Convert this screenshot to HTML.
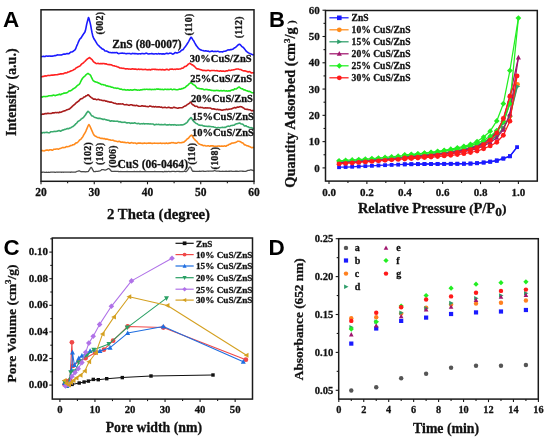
<!DOCTYPE html>
<html><head><meta charset="utf-8"><style>
html,body{margin:0;padding:0;background:#fff;}
body{width:550px;height:439px;overflow:hidden;}
svg{display:block;will-change:transform;}
</style></head><body>
<svg width="550" height="439" viewBox="0 0 550 439">
<rect width="550" height="439" fill="#fff"/>
<polyline points="41,172.31 41.6,172.31 42.2,172.26 42.8,172.21 43.4,172.19 44,172.21 44.6,172.32 45.2,172.38 45.8,172.29 46.4,172.25 47,172.32 47.6,172.34 48.2,172.28 48.8,172.22 49.4,172.28 50,172.29 50.6,172.19 51.2,172.13 51.8,172.07 52.4,172.04 53,172.08 53.6,172.14 54.2,172.18 54.8,172.25 55.4,172.28 56,172.16 56.6,172.04 57.2,172.12 57.8,172.23 58.4,172.19 59,172.11 59.6,172.1 60.2,172.11 60.8,172.16 61.4,172.24 62,172.19 62.6,172.2 63.2,172.24 63.8,172.18 64.4,172.16 65,172.18 65.6,172.13 66.2,172.07 66.8,172.16 67.4,172.19 68,172.1 68.6,172.13 69.2,172.13 69.8,172.13 70.4,172.25 71,172.17 71.6,172.01 72.2,172.04 72.8,172.09 73.4,172.07 74,172.06 74.6,172.05 75.2,172.09 75.8,171.99 76.4,171.72 77,171.46 77.6,171.25 78.2,171.05 78.8,170.9 79.4,170.94 80,171.2 80.6,171.54 81.2,171.73 81.8,171.7 82.4,171.71 83,171.74 83.6,171.64 84.2,171.65 84.8,171.77 85.4,171.83 86,171.76 86.6,171.62 87.2,171.53 87.8,171.55 88.4,171.37 89,170.47 89.6,169.33 90.2,168.36 90.8,167.5 91.4,167.46 92,168.34 92.6,169.48 93.2,170.72 93.8,171.54 94.4,171.59 95,171.53 95.6,171.5 96.2,171.47 96.8,171.46 97.4,171.4 98,171.27 98.6,171.14 99.2,171.04 99.8,170.84 100.4,170.61 101,170.21 101.6,169.73 102.2,169.57 102.8,169.69 103.4,169.68 104,169.77 104.6,169.98 105.2,170.03 105.8,169.84 106.4,169.59 107,169.34 107.6,169 108.2,168.7 108.8,168.66 109.4,168.97 110,169.55 110.6,170.29 111.2,170.97 111.8,171.41 112.4,171.47 113,171.42 113.6,171.4 114.2,171.35 114.8,171.27 115.4,171.34 116,171.4 116.6,171.39 117.2,171.43 117.8,171.45 118.4,171.49 119,171.54 119.6,171.58 120.2,171.54 120.8,171.5 121.4,171.66 122,171.72 122.6,171.62 123.2,171.55 123.8,171.53 124.4,171.55 125,171.62 125.6,171.59 126.2,171.54 126.8,171.51 127.4,171.47 128,171.53 128.6,171.64 129.2,171.67 129.8,171.67 130.4,171.61 131,171.54 131.6,171.53 132.2,171.55 132.8,171.57 133.4,171.56 134,171.51 134.6,171.45 135.2,171.55 135.8,171.67 136.4,171.57 137,171.51 137.6,171.64 138.2,171.66 138.8,171.54 139.4,171.51 140,171.48 140.6,171.47 141.2,171.59 141.8,171.63 142.4,171.57 143,171.56 143.6,171.58 144.2,171.57 144.8,171.52 145.4,171.46 146,171.51 146.6,171.63 147.2,171.62 147.8,171.6 148.4,171.59 149,171.54 149.6,171.56 150.2,171.61 150.8,171.59 151.4,171.57 152,171.63 152.6,171.71 153.2,171.7 153.8,171.62 154.4,171.51 155,171.5 155.6,171.64 156.2,171.69 156.8,171.63 157.4,171.65 158,171.7 158.6,171.71 159.2,171.67 159.8,171.64 160.4,171.63 161,171.58 161.6,171.62 162.2,171.68 162.8,171.73 163.4,171.81 164,171.71 164.6,171.48 165.2,171.43 165.8,171.53 166.4,171.52 167,171.56 167.6,171.57 168.2,171.39 168.8,171.35 169.4,171.5 170,171.57 170.6,171.54 171.2,171.52 171.8,171.44 172.4,171.4 173,171.45 173.6,171.41 174.2,171.41 174.8,171.52 175.4,171.57 176,171.53 176.6,171.46 177.2,171.41 177.8,171.4 178.4,171.44 179,171.48 179.6,171.49 180.2,171.54 180.8,171.64 181.4,171.63 182,171.52 182.6,171.53 183.2,171.54 183.8,171.45 184.4,171.38 185,171.44 185.6,171.54 186.2,171.49 186.8,171.06 187.4,170.36 188,169.5 188.6,168.48 189.2,167.57 189.8,166.87 190.4,167.06 191,167.93 191.6,169.29 192.2,170.63 192.8,171.25 193.4,171.18 194,171.23 194.6,171.35 195.2,171.35 195.8,171.31 196.4,171.3 197,171.33 197.6,171.38 198.2,171.37 198.8,171.29 199.4,171.24 200,171.26 200.6,171.29 201.2,171.29 201.8,171.22 202.4,171.21 203,171.21 203.6,171.23 204.2,171.39 204.8,171.41 205.4,171.3 206,171.3 206.6,171.2 207.2,171.06 207.8,171.14 208.4,171.23 209,171.18 209.6,171.12 210.2,171.13 210.8,171.19 211.4,171.21 212,171.12 212.6,171.05 213.2,171.01 213.8,170.86 214.4,170.7 215,170.71 215.6,170.91 216.2,171.04 216.8,171.08 217.4,171.12 218,171.17 218.6,171.22 219.2,171.25 219.8,171.27 220.4,171.35 221,171.44 221.6,171.4 222.2,171.29 222.8,171.23 223.4,171.29 224,171.41 224.6,171.4 225.2,171.31 225.8,171.23 226.4,171.2 227,171.28 227.6,171.34 228.2,171.29 228.8,171.25 229.4,171.27 230,171.23 230.6,171.16 231.2,171.18 231.8,171.24 232.4,171.29 233,171.28 233.6,171.35 234.2,171.4 234.8,171.28 235.4,171.22 236,171.26 236.6,171.23 237.2,171.2 237.8,171.33 238.4,171.41 239,171.3 239.6,171.18 240.2,171.17 240.8,171.17 241.4,171.11 242,171.14 242.6,171.24 243.2,171.24 243.8,171.32 244.4,171.37 245,171.3 245.6,171.29 246.2,171.23 246.8,170.97 247.4,170.67 248,170.47 248.6,170.42 249.2,170.4 249.8,170.22 250.4,169.97 251,169.88 251.6,170 252.2,170.2 252.8,170.43 253.4,170.72 254,171.03" fill="none" stroke="#4a4a4a" stroke-width="1.3" stroke-linejoin="round"/>
<polyline points="41,150.54 41.6,150.58 42.2,150.62 42.8,150.63 43.4,150.81 44,150.96 44.6,150.79 45.2,150.4 45.8,150.19 46.4,150.16 47,149.93 47.6,149.97 48.2,150.35 48.8,150.39 49.4,150.03 50,149.73 50.6,149.74 51.2,149.84 51.8,150.11 52.4,150.25 53,149.86 53.6,149.39 54.2,149.24 54.8,149.29 55.4,149.18 56,149.01 56.6,148.93 57.2,148.91 57.8,149.08 58.4,149.15 59,148.9 59.6,148.59 60.2,148.45 60.8,148.27 61.4,148.04 62,147.81 62.6,147.5 63.2,147.45 63.8,147.6 64.4,147.51 65,147.42 65.6,147.21 66.2,146.73 66.8,146.58 67.4,146.7 68,146.59 68.6,146.44 69.2,146.39 69.8,146.08 70.4,145.61 71,145.49 71.6,145.56 72.2,145.2 72.8,144.77 73.4,144.77 74,144.67 74.6,144.25 75.2,143.65 75.8,143.06 76.4,142.84 77,142.74 77.6,142.3 78.2,141.71 78.8,141.06 79.4,140.34 80,139.69 80.6,139.3 81.2,138.78 81.8,137.96 82.4,137.28 83,136.35 83.6,135.15 84.2,134.14 84.8,133.22 85.4,132.16 86,130.81 86.6,129.37 87.2,127.97 87.8,126.52 88.4,125.27 89,124.56 89.6,125.62 90.2,126.71 90.8,128.11 91.4,129.52 92,130.85 92.6,132.23 93.2,133.55 93.8,134.71 94.4,135.48 95,135.98 95.6,136.25 96.2,136.51 96.8,136.91 97.4,137.22 98,137.46 98.6,137.54 99.2,137.59 99.8,137.87 100.4,138.24 101,138.4 101.6,138.38 102.2,138.36 102.8,138.48 103.4,138.72 104,138.67 104.6,138.65 105.2,139.1 105.8,139.33 106.4,139.11 107,139.08 107.6,139.25 108.2,139.44 108.8,139.67 109.4,139.72 110,139.85 110.6,140.09 111.2,140.19 111.8,140.28 112.4,140.23 113,140.13 113.6,140.44 114.2,140.96 114.8,141.07 115.4,141.07 116,141.21 116.6,141.32 117.2,141.59 117.8,141.76 118.4,141.47 119,141.27 119.6,141.4 120.2,141.67 120.8,142.12 121.4,142.25 122,142 122.6,141.95 123.2,142.33 123.8,142.43 124.4,142.22 125,142.37 125.6,142.63 126.2,142.74 126.8,142.68 127.4,142.57 128,142.52 128.6,142.75 129.2,143.19 129.8,143.22 130.4,142.94 131,142.68 131.6,142.61 132.2,142.84 132.8,143.05 133.4,143.09 134,143.01 134.6,142.94 135.2,143.05 135.8,143.28 136.4,143.59 137,143.64 137.6,143.3 138.2,143.1 138.8,143.13 139.4,143.1 140,143.1 140.6,143.13 141.2,143.18 141.8,143.33 142.4,143.39 143,143.36 143.6,143.28 144.2,143.13 144.8,143.12 145.4,143.2 146,143.28 146.6,143.38 147.2,143.29 147.8,143.16 148.4,143.17 149,143.12 149.6,143.15 150.2,143.11 150.8,143.02 151.4,143.25 152,143.42 152.6,143.34 153.2,143.27 153.8,143.2 154.4,143.16 155,143.21 155.6,143.27 156.2,143.24 156.8,143.19 157.4,143.32 158,143.4 158.6,143.31 159.2,143.31 159.8,143.25 160.4,143.13 161,143.28 161.6,143.42 162.2,143.41 162.8,143.33 163.4,143.18 164,143.22 164.6,143.39 165.2,143.39 165.8,143.17 166.4,143.02 167,143.26 167.6,143.52 168.2,143.47 168.8,143.14 169.4,142.96 170,143.12 170.6,142.92 171.2,142.64 171.8,142.76 172.4,142.68 173,142.58 173.6,142.86 174.2,143.08 174.8,142.98 175.4,143.05 176,143.33 176.6,143.25 177.2,142.89 177.8,142.6 178.4,142.42 179,142.5 179.6,142.7 180.2,142.73 180.8,142.72 181.4,142.66 182,142.45 182.6,142.38 183.2,142.35 183.8,142.13 184.4,141.77 185,141.2 185.6,140.61 186.2,140.07 186.8,139.36 187.4,138.85 188,138.58 188.6,138.09 189.2,137.3 189.8,136.48 190.4,135.94 191,135.42 191.6,135.09 192.2,135.73 192.8,136.77 193.4,137.91 194,138.67 194.6,139.33 195.2,140.17 195.8,140.7 196.4,140.93 197,141.67 197.6,142.54 198.2,143.21 198.8,143.82 199.4,144.16 200,144.35 200.6,144.64 201.2,144.87 201.8,144.92 202.4,145.11 203,145.53 203.6,145.73 204.2,145.56 204.8,145.51 205.4,145.76 206,145.94 206.6,146 207.2,145.99 207.8,145.82 208.4,145.79 209,145.97 209.6,146.2 210.2,146.13 210.8,145.77 211.4,145.78 212,145.98 212.6,145.85 213.2,145.86 213.8,146.19 214.4,146.34 215,146.22 215.6,146.19 216.2,146.27 216.8,146.3 217.4,146.26 218,146.04 218.6,145.97 219.2,146.09 219.8,146.15 220.4,146.28 221,146.22 221.6,146.07 222.2,146.1 222.8,146.19 223.4,146.18 224,145.95 224.6,145.87 225.2,146.13 225.8,146.27 226.4,145.97 227,145.43 227.6,145.2 228.2,145.09 228.8,144.63 229.4,144.21 230,144.14 230.6,143.97 231.2,143.5 231.8,143.07 232.4,143.04 233,143.11 233.6,142.9 234.2,142.7 234.8,142.64 235.4,142.45 236,142.18 236.6,141.92 237.2,141.59 237.8,141.31 238.4,141.24 239,141.31 239.6,141.49 240.2,141.61 240.8,141.95 241.4,142.43 242,142.75 242.6,142.84 243.2,143.16 243.8,143.93 244.4,144.7 245,144.9 245.6,144.95 246.2,145.38 246.8,145.74 247.4,145.7 248,145.86 248.6,146.3 249.2,146.55 249.8,146.64 250.4,146.88 251,147.38 251.6,147.65 252.2,147.63 252.8,147.48 253.4,147.41 254,147.73" fill="none" stroke="#ff8a1c" stroke-width="1.6" stroke-linejoin="round"/>
<polyline points="41,132.8 41.6,132.92 42.2,132.92 42.8,132.63 43.4,132.47 44,132.59 44.6,132.59 45.2,132.51 45.8,132.49 46.4,132.3 47,132.24 47.6,132.56 48.2,132.72 48.8,132.81 49.4,132.8 50,132.31 50.6,131.83 51.2,131.73 51.8,131.74 52.4,131.81 53,131.7 53.6,131.51 54.2,131.48 54.8,131.42 55.4,131.44 56,131.41 56.6,131.25 57.2,131.12 57.8,130.94 58.4,130.67 59,130.5 59.6,130.73 60.2,131.09 60.8,131.08 61.4,130.79 62,130.36 62.6,130.11 63.2,130.08 63.8,129.85 64.4,129.54 65,129.38 65.6,129.22 66.2,129.03 66.8,128.79 67.4,128.54 68,128.64 68.6,128.78 69.2,128.41 69.8,128.06 70.4,128 71,127.67 71.6,127.13 72.2,126.85 72.8,126.64 73.4,126.15 74,125.69 74.6,125.2 75.2,124.46 75.8,123.77 76.4,123.34 77,122.76 77.6,121.87 78.2,121.24 78.8,120.93 79.4,120.62 80,120.29 80.6,119.7 81.2,119.03 81.8,118.68 82.4,118.25 83,117.76 83.6,117.33 84.2,116.55 84.8,115.75 85.4,115.07 86,114.02 86.6,112.98 87.2,112.17 87.8,111.35 88.4,111.6 89,112.06 89.6,112.58 90.2,113.5 90.8,114.41 91.4,115.24 92,115.91 92.6,116.08 93.2,116.27 93.8,116.82 94.4,117.18 95,117.39 95.6,117.62 96.2,117.81 96.8,118.02 97.4,118.26 98,118.36 98.6,118.42 99.2,118.4 99.8,118.32 100.4,118.51 101,118.79 101.6,118.86 102.2,119.02 102.8,119.41 103.4,119.42 104,119.14 104.6,119.18 105.2,119.53 105.8,119.75 106.4,119.85 107,119.99 107.6,120.15 108.2,120.29 108.8,120.34 109.4,120.55 110,121.03 110.6,121.19 111.2,120.85 111.8,120.69 112.4,120.91 113,121.09 113.6,121.04 114.2,121.11 114.8,121.25 115.4,121.21 116,121.25 116.6,121.27 117.2,121.16 117.8,121.29 118.4,121.65 119,121.87 119.6,121.79 120.2,121.65 120.8,121.91 121.4,122.28 122,122.35 122.6,122.2 123.2,122.19 123.8,122.34 124.4,122.26 125,122.13 125.6,122.39 126.2,122.76 126.8,122.87 127.4,122.83 128,122.8 128.6,122.81 129.2,122.75 129.8,122.97 130.4,123.36 131,123.23 131.6,122.93 132.2,122.97 132.8,123.2 133.4,123.28 134,122.99 134.6,122.79 135.2,123 135.8,123.22 136.4,123.41 137,123.58 137.6,123.59 138.2,123.45 138.8,123.37 139.4,123.69 140,123.99 140.6,123.86 141.2,123.67 141.8,123.79 142.4,123.86 143,123.63 143.6,123.62 144.2,123.84 144.8,123.87 145.4,123.79 146,123.79 146.6,123.82 147.2,123.85 147.8,123.78 148.4,123.71 149,123.92 149.6,124.05 150.2,123.9 150.8,123.97 151.4,124.07 152,123.98 152.6,123.97 153.2,124.09 153.8,124.49 154.4,124.89 155,124.78 155.6,124.47 156.2,124.42 156.8,124.42 157.4,124.52 158,124.54 158.6,124.4 159.2,124.5 159.8,124.66 160.4,124.74 161,124.6 161.6,124.45 162.2,124.61 162.8,124.73 163.4,124.71 164,124.67 164.6,124.41 165.2,124.32 165.8,124.72 166.4,124.92 167,124.81 167.6,124.85 168.2,124.9 168.8,124.72 169.4,124.61 170,124.81 170.6,124.88 171.2,124.79 171.8,124.87 172.4,124.75 173,124.73 173.6,125 174.2,124.88 174.8,124.64 175.4,124.83 176,125.17 176.6,125.2 177.2,125.02 177.8,125.06 178.4,125.08 179,124.96 179.6,124.99 180.2,124.97 180.8,124.86 181.4,124.87 182,124.97 182.6,124.9 183.2,124.61 183.8,124.43 184.4,124.27 185,123.87 185.6,123.46 186.2,123.02 186.8,122.57 187.4,121.99 188,121.03 188.6,120.13 189.2,119.45 189.8,118.97 190.4,118.07 191,117.5 191.6,118.21 192.2,119.32 192.8,120.27 193.4,121 194,121.61 194.6,122.21 195.2,122.72 195.8,123.18 196.4,123.47 197,123.66 197.6,124.11 198.2,124.58 198.8,124.97 199.4,125.1 200,125.16 200.6,125.33 201.2,125.33 201.8,125.25 202.4,125.36 203,125.7 203.6,126.05 204.2,126.15 204.8,126.16 205.4,126.24 206,126.21 206.6,126.21 207.2,126.41 207.8,126.48 208.4,126.35 209,126.31 209.6,126.41 210.2,126.44 210.8,126.54 211.4,126.74 212,126.82 212.6,126.81 213.2,126.85 213.8,127.04 214.4,127.16 215,127.32 215.6,127.62 216.2,127.74 216.8,127.85 217.4,127.76 218,127.5 218.6,127.54 219.2,127.73 219.8,127.78 220.4,127.75 221,127.58 221.6,127.44 222.2,127.41 222.8,127.4 223.4,127.53 224,127.5 224.6,127.35 225.2,127.37 225.8,127.22 226.4,126.79 227,126.48 227.6,126.32 228.2,126.13 228.8,126.27 229.4,126.4 230,126.12 230.6,125.82 231.2,125.58 231.8,125.46 232.4,125.35 233,125.2 233.6,125.22 234.2,125.12 234.8,124.72 235.4,124.24 236,123.94 236.6,123.81 237.2,123.67 237.8,123.5 238.4,123.39 239,123.13 239.6,122.99 240.2,123.31 240.8,123.81 241.4,123.92 242,124.05 242.6,124.29 243.2,124.55 243.8,125.2 244.4,125.9 245,125.96 245.6,125.74 246.2,125.89 246.8,126.36 247.4,126.73 248,126.77 248.6,127.01 249.2,127.52 249.8,127.76 250.4,127.7 251,127.64 251.6,127.78 252.2,127.96 252.8,128.23 253.4,128.69 254,128.96" fill="none" stroke="#3aaa6e" stroke-width="1.6" stroke-linejoin="round"/>
<polyline points="41,114.25 41.6,114.47 42.2,114.26 42.8,113.95 43.4,114.11 44,114.15 44.6,113.79 45.2,113.63 45.8,113.59 46.4,113.63 47,113.65 47.6,113.3 48.2,113.21 48.8,113.42 49.4,113.47 50,113.49 50.6,113.43 51.2,113.4 51.8,113.23 52.4,112.89 53,112.83 53.6,112.88 54.2,112.89 54.8,112.8 55.4,112.54 56,112.52 56.6,112.66 57.2,112.53 57.8,112.45 58.4,112.76 59,112.62 59.6,112.04 60.2,112.11 60.8,112.39 61.4,112.11 62,111.69 62.6,111.39 63.2,111.17 63.8,111 64.4,110.9 65,110.81 65.6,110.51 66.2,110.12 66.8,109.85 67.4,109.67 68,109.42 68.6,109.28 69.2,109.13 69.8,108.72 70.4,108.2 71,107.66 71.6,107.06 72.2,106.44 72.8,105.93 73.4,105.39 74,104.84 74.6,104.47 75.2,103.9 75.8,103.18 76.4,102.65 77,102.23 77.6,101.79 78.2,101.39 78.8,100.99 79.4,100.22 80,99.47 80.6,99.06 81.2,98.71 81.8,98.62 82.4,98.54 83,97.98 83.6,97.24 84.2,96.97 84.8,96.92 85.4,96.42 86,95.87 86.6,95.69 87.2,95.51 87.8,94.9 88.4,94.82 89,95.43 89.6,96.09 90.2,96.58 90.8,97.11 91.4,97.6 92,97.97 92.6,98.38 93.2,98.95 93.8,99.29 94.4,99.15 95,99.12 95.6,99.35 96.2,99.6 96.8,99.71 97.4,99.55 98,99.37 98.6,99.34 99.2,99.61 99.8,99.98 100.4,100.04 101,99.98 101.6,100.15 102.2,100.44 102.8,100.58 103.4,100.59 104,100.54 104.6,100.49 105.2,100.84 105.8,101.18 106.4,101.06 107,101.23 107.6,101.58 108.2,101.62 108.8,101.69 109.4,101.93 110,102.13 110.6,102.1 111.2,102.06 111.8,102.28 112.4,102.46 113,102.65 113.6,102.97 114.2,103.26 114.8,103.33 115.4,103.35 116,103.61 116.6,103.88 117.2,104.02 117.8,104.02 118.4,103.87 119,103.9 119.6,103.96 120.2,103.88 120.8,103.97 121.4,104.06 122,103.97 122.6,103.89 123.2,104.06 123.8,104.43 124.4,104.74 125,104.81 125.6,104.68 126.2,104.57 126.8,104.62 127.4,104.78 128,104.91 128.6,105.16 129.2,105.33 129.8,105.05 130.4,104.75 131,104.73 131.6,104.76 132.2,105.02 132.8,105.44 133.4,105.36 134,105.2 134.6,105.53 135.2,105.74 135.8,105.52 136.4,105.4 137,105.53 137.6,105.75 138.2,105.96 138.8,106.13 139.4,106.22 140,106.28 140.6,106.29 141.2,106.03 141.8,105.75 142.4,105.88 143,106.06 143.6,106.13 144.2,106.23 144.8,106.11 145.4,106.14 146,106.48 146.6,106.55 147.2,106.5 147.8,106.64 148.4,106.7 149,106.38 149.6,106.02 150.2,106.14 150.8,106.32 151.4,106.39 152,106.67 152.6,106.84 153.2,106.61 153.8,106.66 154.4,106.98 155,106.79 155.6,106.6 156.2,106.84 156.8,106.93 157.4,106.91 158,107 158.6,106.9 159.2,106.84 159.8,107.08 160.4,107.18 161,107.1 161.6,107.14 162.2,107.44 162.8,107.63 163.4,107.48 164,107.44 164.6,107.39 165.2,107.35 165.8,107.53 166.4,107.69 167,107.72 167.6,107.53 168.2,107.31 168.8,107.36 169.4,107.57 170,107.77 170.6,107.85 171.2,107.83 171.8,107.92 172.4,107.96 173,107.64 173.6,107.28 174.2,107.19 174.8,107.46 175.4,107.77 176,107.81 176.6,107.92 177.2,108.11 177.8,108.2 178.4,108.09 179,107.84 179.6,107.76 180.2,107.81 180.8,107.79 181.4,107.69 182,107.74 182.6,107.57 183.2,107.02 183.8,106.65 184.4,106.35 185,106.12 185.6,105.89 186.2,105.52 186.8,104.99 187.4,104.47 188,104.14 188.6,103.74 189.2,103.35 189.8,102.75 190.4,102.01 191,102.47 191.6,103.45 192.2,104.26 192.8,104.78 193.4,105.07 194,105.4 194.6,106.02 195.2,106.4 195.8,106.31 196.4,106.18 197,106.3 197.6,106.94 198.2,107.46 198.8,107.45 199.4,107.44 200,107.35 200.6,107.33 201.2,107.49 201.8,107.43 202.4,107.52 203,107.83 203.6,108.02 204.2,108.08 204.8,108.01 205.4,107.84 206,107.84 206.6,108.03 207.2,108.02 207.8,107.91 208.4,107.98 209,108.06 209.6,107.98 210.2,107.98 210.8,108.19 211.4,108.56 212,108.96 212.6,109.03 213.2,108.71 213.8,108.78 214.4,109.13 215,109.16 215.6,109.32 216.2,109.59 216.8,109.45 217.4,109.21 218,109.35 218.6,109.71 219.2,109.78 219.8,109.58 220.4,109.69 221,110.03 221.6,110.09 222.2,109.99 222.8,110.09 223.4,109.95 224,109.62 224.6,109.68 225.2,109.77 225.8,109.45 226.4,109.16 227,109.33 227.6,109.64 228.2,109.43 228.8,109.15 229.4,109.21 230,109.03 230.6,108.97 231.2,109.05 231.8,108.83 232.4,108.42 233,108.13 233.6,108.05 234.2,107.63 234.8,107.48 235.4,107.88 236,107.88 236.6,107.46 237.2,107.1 237.8,107.12 238.4,107.18 239,106.91 239.6,106.7 240.2,106.65 240.8,106.76 241.4,106.76 242,107.06 242.6,107.55 243.2,107.83 243.8,108.11 244.4,108.6 245,109.12 245.6,109.27 246.2,109.27 246.8,109.38 247.4,109.35 248,109.53 248.6,109.77 249.2,109.74 249.8,109.79 250.4,109.97 251,110.41 251.6,110.73 252.2,110.67 252.8,110.66 253.4,110.65 254,110.72" fill="none" stroke="#a81c1c" stroke-width="1.6" stroke-linejoin="round"/>
<polyline points="41,96.51 41.6,96.95 42.2,97.17 42.8,96.8 43.4,96.53 44,96.56 44.6,96.57 45.2,96.59 45.8,96.56 46.4,96.5 47,96.4 47.6,96.18 48.2,95.93 48.8,95.76 49.4,95.71 50,95.69 50.6,95.69 51.2,95.67 51.8,95.73 52.4,95.64 53,95.3 53.6,95.14 54.2,95.23 54.8,95.5 55.4,95.64 56,95.37 56.6,95.14 57.2,94.99 57.8,94.79 58.4,94.76 59,94.35 59.6,94.16 60.2,94.72 60.8,94.66 61.4,94.08 62,93.89 62.6,93.8 63.2,93.51 63.8,93.15 64.4,93.06 65,93.11 65.6,93.04 66.2,92.87 66.8,92.72 67.4,92.51 68,92.01 68.6,91.46 69.2,90.95 69.8,90.82 70.4,90.84 71,90.49 71.6,90.15 72.2,89.73 72.8,89.18 73.4,88.79 74,88.38 74.6,88.02 75.2,87.75 75.8,87.22 76.4,86.44 77,85.83 77.6,85.4 78.2,84.93 78.8,84.62 79.4,84.16 80,83.06 80.6,81.78 81.2,80.61 81.8,79.48 82.4,78.48 83,77.71 83.6,77.14 84.2,76.69 84.8,76.23 85.4,75.58 86,74.82 86.6,74.24 87.2,73.91 87.8,73.46 88.4,73.62 89,74.12 89.6,74.45 90.2,74.82 90.8,75.78 91.4,77.13 92,78.28 92.6,79.68 93.2,80.63 93.8,81 94.4,81.42 95,81.73 95.6,81.84 96.2,82.03 96.8,82.19 97.4,82.38 98,82.69 98.6,83.05 99.2,83.4 99.8,83.53 100.4,83.73 101,84.3 101.6,84.61 102.2,84.55 102.8,84.52 103.4,84.71 104,85.01 104.6,85.02 105.2,85.02 105.8,85.63 106.4,85.97 107,85.74 107.6,85.93 108.2,86.2 108.8,86.37 109.4,86.53 110,86.51 110.6,86.81 111.2,87.19 111.8,87.16 112.4,87.19 113,87.39 113.6,87.68 114.2,87.93 114.8,87.98 115.4,88.04 116,88.14 116.6,88.36 117.2,88.31 117.8,88.15 118.4,88.41 119,88.61 119.6,88.9 120.2,89.16 120.8,88.96 121.4,89.04 122,89.46 122.6,89.66 123.2,89.77 123.8,89.65 124.4,89.47 125,89.7 125.6,90.04 126.2,90.08 126.8,89.95 127.4,89.9 128,89.87 128.6,90.03 129.2,90.29 129.8,90.07 130.4,89.75 131,89.87 131.6,90.14 132.2,90.15 132.8,89.95 133.4,89.84 134,89.75 134.6,89.53 135.2,89.61 135.8,89.89 136.4,89.91 137,90.01 137.6,90.17 138.2,90.07 138.8,90.07 139.4,90.24 140,90.06 140.6,89.82 141.2,89.87 141.8,89.78 142.4,89.58 143,89.59 143.6,89.45 144.2,89.25 144.8,89.38 145.4,89.49 146,89.33 146.6,89.2 147.2,89.33 147.8,89.51 148.4,89.44 149,89.38 149.6,89.41 150.2,89.32 150.8,89.46 151.4,89.64 152,89.43 152.6,89.42 153.2,89.58 153.8,89.47 154.4,89.39 155,89.57 155.6,89.47 156.2,89.08 156.8,89.01 157.4,89.09 158,89.08 158.6,89.12 159.2,89.24 159.8,89.34 160.4,89.31 161,89.41 161.6,89.45 162.2,89.35 162.8,89.53 163.4,89.76 164,89.57 164.6,89.33 165.2,89.27 165.8,89.27 166.4,89.46 167,89.52 167.6,89.33 168.2,89.4 168.8,89.54 169.4,89.43 170,89.3 170.6,89.16 171.2,89.11 171.8,89.42 172.4,89.69 173,89.46 173.6,89.2 174.2,89.21 174.8,89.35 175.4,89.48 176,89.63 176.6,89.74 177.2,89.69 177.8,89.63 178.4,89.55 179,89.32 179.6,89.1 180.2,89.14 180.8,89.18 181.4,88.85 182,88.58 182.6,88.61 183.2,88.38 183.8,87.99 184.4,87.71 185,87.47 185.6,87.06 186.2,86.37 186.8,85.84 187.4,85.51 188,85.02 188.6,84.38 189.2,83.75 189.8,83.25 190.4,83 191,82.71 191.6,83.03 192.2,83.7 192.8,84.19 193.4,84.54 194,84.97 194.6,85.23 195.2,85.65 195.8,86.43 196.4,87.24 197,87.84 197.6,88.24 198.2,88.33 198.8,88.37 199.4,88.59 200,88.67 200.6,88.77 201.2,88.91 201.8,88.88 202.4,88.89 203,89.1 203.6,89.42 204.2,89.68 204.8,89.65 205.4,89.45 206,89.39 206.6,89.55 207.2,89.61 207.8,89.62 208.4,89.87 209,89.88 209.6,89.82 210.2,90.1 210.8,90.3 211.4,90.35 212,90.39 212.6,90.43 213.2,90.59 213.8,90.62 214.4,90.57 215,90.65 215.6,90.6 216.2,90.43 216.8,90.35 217.4,90.51 218,90.61 218.6,90.55 219.2,90.72 219.8,90.87 220.4,90.65 221,90.42 221.6,90.67 222.2,90.89 222.8,90.81 223.4,90.65 224,90.58 224.6,90.8 225.2,90.98 225.8,90.91 226.4,90.8 227,90.93 227.6,91.09 228.2,91.04 228.8,90.81 229.4,90.88 230,91.01 230.6,90.58 231.2,90.18 231.8,90 232.4,89.88 233,90.02 233.6,89.86 234.2,89.17 234.8,88.81 235.4,89 236,88.98 236.6,88.69 237.2,88.28 237.8,87.76 238.4,87.36 239,87.02 239.6,87.32 240.2,87.85 240.8,88.28 241.4,88.73 242,88.82 242.6,88.91 243.2,89.47 243.8,89.93 244.4,89.89 245,89.86 245.6,90.31 246.2,90.69 246.8,90.65 247.4,90.81 248,91.24 248.6,91.34 249.2,91.32 249.8,91.51 250.4,91.8 251,92.12 251.6,92.46 252.2,92.77 252.8,92.76 253.4,92.66 254,92.93" fill="none" stroke="#1ee61e" stroke-width="1.6" stroke-linejoin="round"/>
<polyline points="41,76.8 41.6,76.81 42.2,76.68 42.8,76.37 43.4,76.27 44,76.34 44.6,76 45.2,75.85 45.8,76.09 46.4,76.03 47,75.78 47.6,75.56 48.2,75.42 48.8,75.45 49.4,75.58 50,75.46 50.6,75.24 51.2,75.29 51.8,75.14 52.4,75.05 53,75.21 53.6,75 54.2,74.88 54.8,75.01 55.4,74.83 56,74.68 56.6,74.78 57.2,74.72 57.8,74.52 58.4,74.36 59,74.23 59.6,74.14 60.2,73.9 60.8,73.89 61.4,74.07 62,73.86 62.6,73.76 63.2,73.83 63.8,73.46 64.4,73.09 65,72.96 65.6,72.82 66.2,72.92 66.8,72.82 67.4,72.35 68,72.09 68.6,72.03 69.2,71.8 69.8,71.55 70.4,71.29 71,70.87 71.6,70.66 72.2,70.52 72.8,70.28 73.4,69.92 74,69.51 74.6,69.25 75.2,68.85 75.8,68.25 76.4,67.69 77,67.39 77.6,67.15 78.2,66.73 78.8,66.45 79.4,66.26 80,65.91 80.6,65.35 81.2,64.49 81.8,63.86 82.4,63.57 83,63.16 83.6,62.59 84.2,62.02 84.8,61.48 85.4,60.88 86,60.2 86.6,59.6 87.2,59.08 87.8,58.61 88.4,58.26 89,57.87 89.6,57.55 90.2,58.06 90.8,58.56 91.4,59.05 92,59.55 92.6,60.37 93.2,61.43 93.8,61.99 94.4,62.34 95,62.74 95.6,63.18 96.2,63.57 96.8,63.58 97.4,63.43 98,63.32 98.6,63.46 99.2,63.77 99.8,63.82 100.4,63.64 101,63.67 101.6,63.67 102.2,63.55 102.8,63.63 103.4,63.54 104,63.46 104.6,63.83 105.2,64.03 105.8,63.83 106.4,63.88 107,64.25 107.6,64.42 108.2,64.55 108.8,64.61 109.4,64.54 110,64.65 110.6,64.75 111.2,64.86 111.8,65.06 112.4,65.36 113,65.67 113.6,65.78 114.2,65.84 114.8,66.06 115.4,66.25 116,66.33 116.6,66.53 117.2,66.79 117.8,66.95 118.4,67.11 119,67.44 119.6,67.93 120.2,68.08 120.8,67.94 121.4,68.08 122,68.37 122.6,68.31 123.2,68.22 123.8,68.35 124.4,68.58 125,68.74 125.6,68.86 126.2,68.92 126.8,68.8 127.4,68.74 128,68.89 128.6,69.1 129.2,69.05 129.8,69.03 130.4,69.29 131,69.26 131.6,68.97 132.2,68.83 132.8,68.88 133.4,69.06 134,69.16 134.6,69.1 135.2,69.07 135.8,69.09 136.4,69.18 137,69.49 137.6,69.49 138.2,69.16 138.8,69.17 139.4,69.37 140,69.4 140.6,69.32 141.2,69.27 141.8,69.35 142.4,69.54 143,69.58 143.6,69.54 144.2,69.57 144.8,69.41 145.4,69.32 146,69.57 146.6,69.67 147.2,69.67 147.8,69.86 148.4,69.8 149,69.45 149.6,69.5 150.2,69.93 150.8,69.92 151.4,69.49 152,69.27 152.6,69.34 153.2,69.32 153.8,69.28 154.4,69.35 155,69.27 155.6,69.35 156.2,69.59 156.8,69.54 157.4,69.57 158,69.76 158.6,69.75 159.2,69.59 159.8,69.48 160.4,69.58 161,69.86 161.6,69.73 162.2,69.42 162.8,69.52 163.4,69.72 164,69.85 164.6,70.02 165.2,69.88 165.8,69.54 166.4,69.34 167,69.3 167.6,69.45 168.2,69.78 168.8,69.98 169.4,69.55 170,69.05 170.6,69.17 171.2,69.3 171.8,69.15 172.4,69.13 173,69.3 173.6,69.42 174.2,69.31 174.8,69.28 175.4,69.38 176,69.28 176.6,69.08 177.2,68.97 177.8,69.1 178.4,69.18 179,68.96 179.6,68.97 180.2,68.98 180.8,68.71 181.4,68.37 182,68.16 182.6,68.2 183.2,68.04 183.8,67.39 184.4,66.66 185,66.38 185.6,66.44 186.2,66.18 186.8,65.65 187.4,65.11 188,64.45 188.6,63.94 189.2,63.64 189.8,63.24 190.4,63.47 191,64.18 191.6,64.67 192.2,64.7 192.8,65.05 193.4,65.69 194,66.01 194.6,66.41 195.2,67.26 195.8,67.84 196.4,68.3 197,68.84 197.6,68.9 198.2,68.89 198.8,69.09 199.4,69.19 200,69.43 200.6,69.72 201.2,69.79 201.8,70 202.4,70.36 203,70.45 203.6,70.4 204.2,70.39 204.8,70.49 205.4,70.58 206,70.61 206.6,70.61 207.2,70.39 207.8,70.2 208.4,70.2 209,70.39 209.6,70.75 210.2,70.84 210.8,70.64 211.4,70.57 212,70.56 212.6,70.46 213.2,70.48 213.8,70.53 214.4,70.51 215,70.69 215.6,70.8 216.2,70.66 216.8,70.52 217.4,70.73 218,71 218.6,70.99 219.2,71.15 219.8,71.16 220.4,70.85 221,70.83 221.6,71.21 222.2,71.3 222.8,70.95 223.4,70.95 224,71.19 224.6,71.33 225.2,71.33 225.8,71.1 226.4,70.86 227,70.87 227.6,70.97 228.2,70.53 228.8,70.09 229.4,70.2 230,70.43 230.6,70.46 231.2,70.14 231.8,69.92 232.4,70.02 233,69.99 233.6,69.78 234.2,69.69 234.8,69.53 235.4,69.28 236,69.17 236.6,69.03 237.2,68.98 237.8,69.01 238.4,68.99 239,69.28 239.6,69.53 240.2,69.47 240.8,69.54 241.4,69.88 242,70.3 242.6,70.58 243.2,70.75 243.8,70.86 244.4,70.87 245,70.87 245.6,70.98 246.2,71.33 246.8,71.52 247.4,71.65 248,71.98 248.6,71.87 249.2,71.6 249.8,71.79 250.4,72.13 251,72.7 251.6,73.03 252.2,72.8 252.8,72.72 253.4,72.88 254,73.04" fill="none" stroke="#ff2020" stroke-width="1.6" stroke-linejoin="round"/>
<polyline points="41,56.63 41.6,56.59 42.2,56.46 42.8,56.48 43.4,56.35 44,56.4 44.6,56.6 45.2,56.43 45.8,56.09 46.4,55.98 47,56.04 47.6,56.21 48.2,56.2 48.8,55.99 49.4,56.06 50,56.19 50.6,56.14 51.2,56.17 51.8,56.21 52.4,56.11 53,56.01 53.6,56.05 54.2,55.86 54.8,55.55 55.4,55.6 56,55.55 56.6,55.29 57.2,55.03 57.8,54.87 58.4,54.95 59,55.06 59.6,54.98 60.2,54.91 60.8,55.06 61.4,54.97 62,54.64 62.6,54.41 63.2,54.23 63.8,54.11 64.4,54.12 65,54.14 65.6,53.93 66.2,53.68 66.8,53.59 67.4,53.54 68,53.67 68.6,53.79 69.2,53.47 69.8,52.89 70.4,52.38 71,52.04 71.6,51.94 72.2,51.89 72.8,51.53 73.4,51.05 74,50.56 74.6,50.16 75.2,49.61 75.8,48.43 76.4,46.82 77,45.31 77.6,43.98 78.2,42.51 78.8,41.07 79.4,39.85 80,38.93 80.6,38.46 81.2,37.76 81.8,36.61 82.4,35.73 83,34.81 83.6,33.8 84.2,33.14 84.8,32.27 85.4,30.61 86,27.8 86.6,24.67 87.2,22.18 87.8,19.96 88.4,17.6 89,18.36 89.6,20.82 90.2,23.17 90.8,25.94 91.4,29.28 92,32.49 92.6,35.16 93.2,37.21 93.8,38.51 94.4,39.45 95,40.27 95.6,41.29 96.2,42.3 96.8,43.35 97.4,44.34 98,45.01 98.6,45.52 99.2,46.04 99.8,46.77 100.4,47.42 101,47.79 101.6,48.4 102.2,49.01 102.8,49.11 103.4,49.25 104,49.82 104.6,50.58 105.2,51.04 105.8,50.99 106.4,50.95 107,51.29 107.6,51.65 108.2,51.86 108.8,52.29 109.4,52.54 110,52.49 110.6,52.58 111.2,52.8 111.8,52.79 112.4,52.65 113,52.73 113.6,52.67 114.2,52.58 114.8,52.72 115.4,52.72 116,52.55 116.6,52.49 117.2,52.81 117.8,53.38 118.4,53.62 119,53.53 119.6,53.41 120.2,53.24 120.8,53.25 121.4,53.27 122,53.11 122.6,53.14 123.2,53.34 123.8,53.32 124.4,53.3 125,53.45 125.6,53.59 126.2,53.68 126.8,53.6 127.4,53.51 128,53.55 128.6,53.5 129.2,53.42 129.8,53.54 130.4,53.76 131,53.91 131.6,53.77 132.2,53.43 132.8,53.4 133.4,53.57 134,53.63 134.6,53.57 135.2,53.63 135.8,53.81 136.4,53.7 137,53.64 137.6,53.94 138.2,53.97 138.8,53.8 139.4,53.77 140,53.79 140.6,53.87 141.2,53.75 141.8,53.57 142.4,53.57 143,53.62 143.6,53.76 144.2,53.83 144.8,53.76 145.4,53.37 146,53.11 146.6,53.32 147.2,53.49 147.8,53.77 148.4,54.04 149,53.91 149.6,53.74 150.2,53.72 150.8,53.71 151.4,53.64 152,53.57 152.6,53.69 153.2,53.92 153.8,53.98 154.4,53.93 155,53.83 155.6,53.76 156.2,53.8 156.8,53.91 157.4,53.98 158,53.82 158.6,53.59 159.2,53.7 159.8,53.94 160.4,53.81 161,53.78 161.6,54.05 162.2,54.08 162.8,53.86 163.4,53.88 164,54.09 164.6,53.99 165.2,53.77 165.8,53.54 166.4,53.25 167,53.3 167.6,53.59 168.2,53.67 168.8,53.46 169.4,53.2 170,53.15 170.6,53.21 171.2,53.29 171.8,53.61 172.4,53.99 173,54.11 173.6,53.76 174.2,53.29 174.8,52.82 175.4,52.49 176,52.66 176.6,52.91 177.2,52.91 177.8,52.72 178.4,52.4 179,52.11 179.6,51.95 180.2,51.62 180.8,50.95 181.4,50.34 182,50.02 182.6,49.9 183.2,49.48 183.8,48.58 184.4,47.67 185,47 185.6,46.26 186.2,45.36 186.8,44.46 187.4,43.51 188,42.55 188.6,41.61 189.2,40.48 189.8,39.27 190.4,38.24 191,37.3 191.6,37.68 192.2,38.65 192.8,39.58 193.4,40.46 194,41.46 194.6,42.59 195.2,43.61 195.8,44.76 196.4,45.72 197,46.38 197.6,47.25 198.2,48.09 198.8,48.58 199.4,49 200,49.53 200.6,49.87 201.2,50.08 201.8,50.28 202.4,50.45 203,50.56 203.6,50.79 204.2,51.02 204.8,51 205.4,50.86 206,50.85 206.6,51.07 207.2,51.19 207.8,51.09 208.4,51.1 209,51.48 209.6,51.72 210.2,51.48 210.8,51.38 211.4,51.21 212,50.96 212.6,51.12 213.2,51.41 213.8,51.58 214.4,51.44 215,51.27 215.6,51.37 216.2,51.43 216.8,51.39 217.4,51.31 218,51.23 218.6,51.41 219.2,51.79 219.8,51.97 220.4,51.82 221,51.69 221.6,51.77 222.2,51.83 222.8,51.83 223.4,51.61 224,51.3 224.6,51.17 225.2,51.1 225.8,51 226.4,50.8 227,50.38 227.6,50.06 228.2,49.95 228.8,49.88 229.4,49.98 230,49.86 230.6,49.59 231.2,49.65 231.8,49.55 232.4,49.26 233,49.16 233.6,48.71 234.2,48.03 234.8,47.73 235.4,47.45 236,47.02 236.6,46.5 237.2,45.8 237.8,45.2 238.4,44.75 239,44.36 239.6,44.25 240.2,44.63 240.8,45.22 241.4,46.01 242,46.63 242.6,47.02 243.2,47.33 243.8,47.97 244.4,48.83 245,49.6 245.6,50.37 246.2,51.15 246.8,51.7 247.4,52.12 248,52.57 248.6,52.89 249.2,53.18 249.8,53.58 250.4,53.83 251,53.95 251.6,54.15 252.2,54.44 252.8,54.7 253.4,54.76 254,54.65" fill="none" stroke="#1a1aff" stroke-width="1.6" stroke-linejoin="round"/>
<rect x="41" y="9.8" width="213" height="171.5" fill="none" stroke="#1a1a1a" stroke-width="1.5"/>
<line x1="41" y1="181.3" x2="41" y2="184.3" stroke="#1a1a1a" stroke-width="1.1"/>
<text x="41" y="195.7" font-size="11.5" text-anchor="middle" font-family="Liberation Serif" font-weight="bold" stroke="#111" stroke-width="0.28" fill="#111">20</text>
<line x1="94.25" y1="181.3" x2="94.25" y2="184.3" stroke="#1a1a1a" stroke-width="1.1"/>
<text x="94.25" y="195.7" font-size="11.5" text-anchor="middle" font-family="Liberation Serif" font-weight="bold" stroke="#111" stroke-width="0.28" fill="#111">30</text>
<line x1="147.5" y1="181.3" x2="147.5" y2="184.3" stroke="#1a1a1a" stroke-width="1.1"/>
<text x="147.5" y="195.7" font-size="11.5" text-anchor="middle" font-family="Liberation Serif" font-weight="bold" stroke="#111" stroke-width="0.28" fill="#111">40</text>
<line x1="200.75" y1="181.3" x2="200.75" y2="184.3" stroke="#1a1a1a" stroke-width="1.1"/>
<text x="200.75" y="195.7" font-size="11.5" text-anchor="middle" font-family="Liberation Serif" font-weight="bold" stroke="#111" stroke-width="0.28" fill="#111">50</text>
<line x1="254" y1="181.3" x2="254" y2="184.3" stroke="#1a1a1a" stroke-width="1.1"/>
<text x="254" y="195.7" font-size="11.5" text-anchor="middle" font-family="Liberation Serif" font-weight="bold" stroke="#111" stroke-width="0.28" fill="#111">60</text>
<line x1="67.62" y1="181.3" x2="67.62" y2="183.3" stroke="#1a1a1a" stroke-width="1.1"/>
<line x1="120.88" y1="181.3" x2="120.88" y2="183.3" stroke="#1a1a1a" stroke-width="1.1"/>
<line x1="174.12" y1="181.3" x2="174.12" y2="183.3" stroke="#1a1a1a" stroke-width="1.1"/>
<line x1="227.38" y1="181.3" x2="227.38" y2="183.3" stroke="#1a1a1a" stroke-width="1.1"/>
<text x="107" y="218.6" font-size="14.8" text-anchor="start" font-family="Liberation Serif" font-weight="bold" stroke="#111" stroke-width="0.28" fill="#111">2 Theta (degree)</text>
<text x="15.9" y="92.2" font-size="14" text-anchor="middle" font-family="Liberation Serif" font-weight="bold" stroke="#111" stroke-width="0.28" fill="#111" transform="rotate(-90 15.9 92.2)">Intensity (a.u.)</text>
<text x="3" y="27.2" font-size="22.5" text-anchor="start" font-family="Liberation Sans" font-weight="bold" fill="#000">A</text>
<text x="112.3" y="47.6" font-size="11.5" text-anchor="start" font-family="Liberation Serif" font-weight="bold" stroke="#111" stroke-width="0.28" fill="#111">ZnS (80-0007)</text>
<text x="189.8" y="61.7" font-size="10.5" text-anchor="start" font-family="Liberation Serif" font-weight="bold" stroke="#111" stroke-width="0.28" fill="#111">30%CuS/ZnS</text>
<text x="190.3" y="81.6" font-size="10.5" text-anchor="start" font-family="Liberation Serif" font-weight="bold" stroke="#111" stroke-width="0.28" fill="#111">25%CuS/ZnS</text>
<text x="191" y="102.4" font-size="10.5" text-anchor="start" font-family="Liberation Serif" font-weight="bold" stroke="#111" stroke-width="0.28" fill="#111">20%CuS/ZnS</text>
<text x="192" y="120" font-size="10.5" text-anchor="start" font-family="Liberation Serif" font-weight="bold" stroke="#111" stroke-width="0.28" fill="#111">15%CuS/ZnS</text>
<text x="192" y="136.4" font-size="10.5" text-anchor="start" font-family="Liberation Serif" font-weight="bold" stroke="#111" stroke-width="0.28" fill="#111">10%CuS/ZnS</text>
<text x="188" y="168.2" font-size="11.6" text-anchor="end" font-family="Liberation Serif" font-weight="bold" stroke="#111" stroke-width="0.28" fill="#111">CuS (06-0464)</text>
<text transform="translate(102.77 34.4) rotate(-90)" font-size="9.9" letter-spacing="0.25" font-family="Liberation Serif" font-weight="bold" stroke="#111" stroke-width="0.28" fill="#111">(002)</text>
<text transform="translate(192.12 35.6) rotate(-90)" font-size="9.9" letter-spacing="0.25" font-family="Liberation Serif" font-weight="bold" stroke="#111" stroke-width="0.28" fill="#111">(110)</text>
<text transform="translate(241.72 38.3) rotate(-90)" font-size="9.9" letter-spacing="0.25" font-family="Liberation Serif" font-weight="bold" stroke="#111" stroke-width="0.28" fill="#111">(112)</text>
<text transform="translate(91.42 164.7) rotate(-90)" font-size="9.9" letter-spacing="0.25" font-family="Liberation Serif" font-weight="bold" stroke="#111" stroke-width="0.28" fill="#111">(102)</text>
<text transform="translate(102.67 165.1) rotate(-90)" font-size="9.9" letter-spacing="0.25" font-family="Liberation Serif" font-weight="bold" stroke="#111" stroke-width="0.28" fill="#111">(103)</text>
<text transform="translate(115.62 167.8) rotate(-90)" font-size="9.9" letter-spacing="0.25" font-family="Liberation Serif" font-weight="bold" stroke="#111" stroke-width="0.28" fill="#111">(006)</text>
<text transform="translate(195.22 164.8) rotate(-90)" font-size="9.9" letter-spacing="0.25" font-family="Liberation Serif" font-weight="bold" stroke="#111" stroke-width="0.28" fill="#111">(110)</text>
<text transform="translate(218.22 169.4) rotate(-90)" font-size="9.9" letter-spacing="0.25" font-family="Liberation Serif" font-weight="bold" stroke="#111" stroke-width="0.28" fill="#111">(108)</text>
<polyline points="339.04,167.23 345.61,167.02 352.18,166.76 358.75,166.47 365.33,166.15 371.9,165.81 378.47,165.47 385.04,165.17 391.62,164.91 398.19,164.66 404.76,164.44 411.33,164.27 417.9,164.17 424.48,164.1 431.05,164.05 437.62,164 444.19,163.94 450.77,163.9 457.34,163.86 463.91,163.8 470.48,163.71 477.05,163.27 483.63,162.59 490.2,161.83 496.77,160.96 503.34,158.67 509.91,156.37 517.07,147.14" fill="none" stroke="#1a1aff" stroke-width="1.25" stroke-linejoin="round"/>
<polyline points="517.07,147.14 509.91,156.11 503.34,158.41 496.77,160.26 490.2,161.56 483.63,162.46 477.05,163.12 470.48,163.45 463.91,163.58 457.34,163.67 450.77,163.74 444.19,163.81 437.62,163.88 431.05,163.94 424.48,163.99 417.9,164.05 411.33,164.12 404.76,164.21" fill="none" stroke="#1a1aff" stroke-width="1.25" stroke-linejoin="round"/>
<rect x="337.14" y="165.33" width="3.8" height="3.8" fill="#1a1aff"/>
<rect x="343.71" y="165.12" width="3.8" height="3.8" fill="#1a1aff"/>
<rect x="350.28" y="164.86" width="3.8" height="3.8" fill="#1a1aff"/>
<rect x="356.85" y="164.57" width="3.8" height="3.8" fill="#1a1aff"/>
<rect x="363.43" y="164.25" width="3.8" height="3.8" fill="#1a1aff"/>
<rect x="370" y="163.91" width="3.8" height="3.8" fill="#1a1aff"/>
<rect x="376.57" y="163.57" width="3.8" height="3.8" fill="#1a1aff"/>
<rect x="383.14" y="163.27" width="3.8" height="3.8" fill="#1a1aff"/>
<rect x="389.72" y="163.01" width="3.8" height="3.8" fill="#1a1aff"/>
<rect x="396.29" y="162.76" width="3.8" height="3.8" fill="#1a1aff"/>
<rect x="402.86" y="162.54" width="3.8" height="3.8" fill="#1a1aff"/>
<rect x="409.43" y="162.37" width="3.8" height="3.8" fill="#1a1aff"/>
<rect x="416" y="162.27" width="3.8" height="3.8" fill="#1a1aff"/>
<rect x="422.58" y="162.2" width="3.8" height="3.8" fill="#1a1aff"/>
<rect x="429.15" y="162.15" width="3.8" height="3.8" fill="#1a1aff"/>
<rect x="435.72" y="162.1" width="3.8" height="3.8" fill="#1a1aff"/>
<rect x="442.29" y="162.04" width="3.8" height="3.8" fill="#1a1aff"/>
<rect x="448.87" y="162" width="3.8" height="3.8" fill="#1a1aff"/>
<rect x="455.44" y="161.96" width="3.8" height="3.8" fill="#1a1aff"/>
<rect x="462.01" y="161.9" width="3.8" height="3.8" fill="#1a1aff"/>
<rect x="468.58" y="161.81" width="3.8" height="3.8" fill="#1a1aff"/>
<rect x="475.15" y="161.37" width="3.8" height="3.8" fill="#1a1aff"/>
<rect x="481.73" y="160.69" width="3.8" height="3.8" fill="#1a1aff"/>
<rect x="488.3" y="159.93" width="3.8" height="3.8" fill="#1a1aff"/>
<rect x="494.87" y="159.06" width="3.8" height="3.8" fill="#1a1aff"/>
<rect x="501.44" y="156.77" width="3.8" height="3.8" fill="#1a1aff"/>
<rect x="508.01" y="154.47" width="3.8" height="3.8" fill="#1a1aff"/>
<rect x="515.17" y="145.24" width="3.8" height="3.8" fill="#1a1aff"/>
<rect x="508.01" y="154.21" width="3.8" height="3.8" fill="#1a1aff"/>
<rect x="501.44" y="156.51" width="3.8" height="3.8" fill="#1a1aff"/>
<rect x="494.87" y="158.36" width="3.8" height="3.8" fill="#1a1aff"/>
<rect x="488.3" y="159.66" width="3.8" height="3.8" fill="#1a1aff"/>
<rect x="481.73" y="160.56" width="3.8" height="3.8" fill="#1a1aff"/>
<rect x="475.15" y="161.22" width="3.8" height="3.8" fill="#1a1aff"/>
<rect x="468.58" y="161.55" width="3.8" height="3.8" fill="#1a1aff"/>
<rect x="462.01" y="161.68" width="3.8" height="3.8" fill="#1a1aff"/>
<rect x="455.44" y="161.77" width="3.8" height="3.8" fill="#1a1aff"/>
<rect x="448.87" y="161.84" width="3.8" height="3.8" fill="#1a1aff"/>
<rect x="442.29" y="161.91" width="3.8" height="3.8" fill="#1a1aff"/>
<rect x="435.72" y="161.98" width="3.8" height="3.8" fill="#1a1aff"/>
<rect x="429.15" y="162.04" width="3.8" height="3.8" fill="#1a1aff"/>
<rect x="422.58" y="162.09" width="3.8" height="3.8" fill="#1a1aff"/>
<rect x="416" y="162.15" width="3.8" height="3.8" fill="#1a1aff"/>
<rect x="409.43" y="162.22" width="3.8" height="3.8" fill="#1a1aff"/>
<rect x="402.86" y="162.31" width="3.8" height="3.8" fill="#1a1aff"/>
<polyline points="339.04,162.08 345.61,161.66 352.18,161.21 358.75,160.75 365.33,160.28 371.9,159.78 378.47,159.28 385.04,158.76 391.62,158.24 398.19,157.72 404.76,157.18 411.33,156.64 417.9,156.07 424.48,155.48 431.05,154.87 437.62,154.25 444.19,153.53 450.77,152.72 457.34,151.79 463.91,150.64 470.48,149.19 477.05,147.29 483.63,144.56 490.2,140.86 496.77,135.8 503.34,128.14 509.91,116.21 517.45,84.33" fill="none" stroke="#ff8c1a" stroke-width="1.25" stroke-linejoin="round"/>
<polyline points="517.45,84.33 509.91,101.84 503.34,121.95 496.77,131.72 490.2,138.05 483.63,142.07 477.05,145.05 470.48,147.31 463.91,149.03 457.34,150.42 450.77,151.56 444.19,152.5 437.62,153.31 431.05,154.03 424.48,154.68 417.9,155.29 411.33,155.84 404.76,156.34" fill="none" stroke="#ff8c1a" stroke-width="1.25" stroke-linejoin="round"/>
<circle cx="339.04" cy="162.08" r="2.42" fill="#ff8c1a"/>
<circle cx="345.61" cy="161.66" r="2.42" fill="#ff8c1a"/>
<circle cx="352.18" cy="161.21" r="2.42" fill="#ff8c1a"/>
<circle cx="358.75" cy="160.75" r="2.42" fill="#ff8c1a"/>
<circle cx="365.33" cy="160.28" r="2.42" fill="#ff8c1a"/>
<circle cx="371.9" cy="159.78" r="2.42" fill="#ff8c1a"/>
<circle cx="378.47" cy="159.28" r="2.42" fill="#ff8c1a"/>
<circle cx="385.04" cy="158.76" r="2.42" fill="#ff8c1a"/>
<circle cx="391.62" cy="158.24" r="2.42" fill="#ff8c1a"/>
<circle cx="398.19" cy="157.72" r="2.42" fill="#ff8c1a"/>
<circle cx="404.76" cy="157.18" r="2.42" fill="#ff8c1a"/>
<circle cx="411.33" cy="156.64" r="2.42" fill="#ff8c1a"/>
<circle cx="417.9" cy="156.07" r="2.42" fill="#ff8c1a"/>
<circle cx="424.48" cy="155.48" r="2.42" fill="#ff8c1a"/>
<circle cx="431.05" cy="154.87" r="2.42" fill="#ff8c1a"/>
<circle cx="437.62" cy="154.25" r="2.42" fill="#ff8c1a"/>
<circle cx="444.19" cy="153.53" r="2.42" fill="#ff8c1a"/>
<circle cx="450.77" cy="152.72" r="2.42" fill="#ff8c1a"/>
<circle cx="457.34" cy="151.79" r="2.42" fill="#ff8c1a"/>
<circle cx="463.91" cy="150.64" r="2.42" fill="#ff8c1a"/>
<circle cx="470.48" cy="149.19" r="2.42" fill="#ff8c1a"/>
<circle cx="477.05" cy="147.29" r="2.42" fill="#ff8c1a"/>
<circle cx="483.63" cy="144.56" r="2.42" fill="#ff8c1a"/>
<circle cx="490.2" cy="140.86" r="2.42" fill="#ff8c1a"/>
<circle cx="496.77" cy="135.8" r="2.42" fill="#ff8c1a"/>
<circle cx="503.34" cy="128.14" r="2.42" fill="#ff8c1a"/>
<circle cx="509.91" cy="116.21" r="2.42" fill="#ff8c1a"/>
<circle cx="517.45" cy="84.33" r="2.42" fill="#ff8c1a"/>
<circle cx="509.91" cy="101.84" r="2.42" fill="#ff8c1a"/>
<circle cx="503.34" cy="121.95" r="2.42" fill="#ff8c1a"/>
<circle cx="496.77" cy="131.72" r="2.42" fill="#ff8c1a"/>
<circle cx="490.2" cy="138.05" r="2.42" fill="#ff8c1a"/>
<circle cx="483.63" cy="142.07" r="2.42" fill="#ff8c1a"/>
<circle cx="477.05" cy="145.05" r="2.42" fill="#ff8c1a"/>
<circle cx="470.48" cy="147.31" r="2.42" fill="#ff8c1a"/>
<circle cx="463.91" cy="149.03" r="2.42" fill="#ff8c1a"/>
<circle cx="457.34" cy="150.42" r="2.42" fill="#ff8c1a"/>
<circle cx="450.77" cy="151.56" r="2.42" fill="#ff8c1a"/>
<circle cx="444.19" cy="152.5" r="2.42" fill="#ff8c1a"/>
<circle cx="437.62" cy="153.31" r="2.42" fill="#ff8c1a"/>
<circle cx="431.05" cy="154.03" r="2.42" fill="#ff8c1a"/>
<circle cx="424.48" cy="154.68" r="2.42" fill="#ff8c1a"/>
<circle cx="417.9" cy="155.29" r="2.42" fill="#ff8c1a"/>
<circle cx="411.33" cy="155.84" r="2.42" fill="#ff8c1a"/>
<circle cx="404.76" cy="156.34" r="2.42" fill="#ff8c1a"/>
<polyline points="339.04,162.08 345.61,161.66 352.18,161.21 358.75,160.75 365.33,160.28 371.9,159.78 378.47,159.28 385.04,158.76 391.62,158.24 398.19,157.72 404.76,157.18 411.33,156.64 417.9,156.07 424.48,155.48 431.05,154.87 437.62,154.25 444.19,153.53 450.77,152.72 457.34,151.79 463.91,150.64 470.48,149.19 477.05,147.29 483.63,144.56 490.2,140.86 496.77,135.8 503.34,128.14 509.91,116.19 517.45,86.43" fill="none" stroke="#2e9e6a" stroke-width="1.25" stroke-linejoin="round"/>
<polyline points="517.45,86.43 509.91,103.14 503.34,123.19 496.77,132.25 490.2,138.31 483.63,142.33 477.05,145.31 470.48,147.57 463.91,149.29 457.34,150.69 450.77,151.82 444.19,152.77 437.62,153.58 431.05,154.29 424.48,154.95 417.9,155.56 411.33,156.1 404.76,156.6" fill="none" stroke="#2e9e6a" stroke-width="1.25" stroke-linejoin="round"/>
<polygon points="341.8,162.08 336.97,159.55 336.97,164.61" fill="#2e9e6a"/>
<polygon points="348.37,161.66 343.54,159.13 343.54,164.19" fill="#2e9e6a"/>
<polygon points="354.94,161.21 350.11,158.68 350.11,163.74" fill="#2e9e6a"/>
<polygon points="361.51,160.75 356.68,158.22 356.68,163.28" fill="#2e9e6a"/>
<polygon points="368.09,160.28 363.26,157.75 363.26,162.81" fill="#2e9e6a"/>
<polygon points="374.66,159.78 369.83,157.25 369.83,162.31" fill="#2e9e6a"/>
<polygon points="381.23,159.28 376.4,156.75 376.4,161.81" fill="#2e9e6a"/>
<polygon points="387.8,158.76 382.97,156.23 382.97,161.29" fill="#2e9e6a"/>
<polygon points="394.38,158.24 389.55,155.71 389.55,160.77" fill="#2e9e6a"/>
<polygon points="400.95,157.72 396.12,155.19 396.12,160.25" fill="#2e9e6a"/>
<polygon points="407.52,157.18 402.69,154.65 402.69,159.71" fill="#2e9e6a"/>
<polygon points="414.09,156.64 409.26,154.11 409.26,159.17" fill="#2e9e6a"/>
<polygon points="420.66,156.07 415.83,153.54 415.83,158.6" fill="#2e9e6a"/>
<polygon points="427.24,155.48 422.41,152.95 422.41,158.01" fill="#2e9e6a"/>
<polygon points="433.81,154.87 428.98,152.34 428.98,157.4" fill="#2e9e6a"/>
<polygon points="440.38,154.25 435.55,151.72 435.55,156.78" fill="#2e9e6a"/>
<polygon points="446.95,153.53 442.12,151 442.12,156.06" fill="#2e9e6a"/>
<polygon points="453.53,152.72 448.7,150.19 448.7,155.25" fill="#2e9e6a"/>
<polygon points="460.1,151.79 455.27,149.26 455.27,154.32" fill="#2e9e6a"/>
<polygon points="466.67,150.64 461.84,148.11 461.84,153.17" fill="#2e9e6a"/>
<polygon points="473.24,149.19 468.41,146.66 468.41,151.72" fill="#2e9e6a"/>
<polygon points="479.81,147.29 474.98,144.76 474.98,149.82" fill="#2e9e6a"/>
<polygon points="486.39,144.56 481.56,142.03 481.56,147.09" fill="#2e9e6a"/>
<polygon points="492.96,140.86 488.13,138.33 488.13,143.39" fill="#2e9e6a"/>
<polygon points="499.53,135.8 494.7,133.27 494.7,138.33" fill="#2e9e6a"/>
<polygon points="506.1,128.14 501.27,125.61 501.27,130.67" fill="#2e9e6a"/>
<polygon points="512.67,116.19 507.84,113.66 507.84,118.72" fill="#2e9e6a"/>
<polygon points="520.21,86.43 515.38,83.9 515.38,88.96" fill="#2e9e6a"/>
<polygon points="512.67,103.14 507.84,100.61 507.84,105.67" fill="#2e9e6a"/>
<polygon points="506.1,123.19 501.27,120.66 501.27,125.72" fill="#2e9e6a"/>
<polygon points="499.53,132.25 494.7,129.72 494.7,134.78" fill="#2e9e6a"/>
<polygon points="492.96,138.31 488.13,135.78 488.13,140.84" fill="#2e9e6a"/>
<polygon points="486.39,142.33 481.56,139.8 481.56,144.86" fill="#2e9e6a"/>
<polygon points="479.81,145.31 474.98,142.78 474.98,147.84" fill="#2e9e6a"/>
<polygon points="473.24,147.57 468.41,145.04 468.41,150.1" fill="#2e9e6a"/>
<polygon points="466.67,149.29 461.84,146.76 461.84,151.82" fill="#2e9e6a"/>
<polygon points="460.1,150.69 455.27,148.16 455.27,153.22" fill="#2e9e6a"/>
<polygon points="453.53,151.82 448.7,149.29 448.7,154.35" fill="#2e9e6a"/>
<polygon points="446.95,152.77 442.12,150.24 442.12,155.3" fill="#2e9e6a"/>
<polygon points="440.38,153.58 435.55,151.05 435.55,156.11" fill="#2e9e6a"/>
<polygon points="433.81,154.29 428.98,151.76 428.98,156.82" fill="#2e9e6a"/>
<polygon points="427.24,154.95 422.41,152.42 422.41,157.48" fill="#2e9e6a"/>
<polygon points="420.66,155.56 415.83,153.03 415.83,158.09" fill="#2e9e6a"/>
<polygon points="414.09,156.1 409.26,153.57 409.26,158.63" fill="#2e9e6a"/>
<polygon points="407.52,156.6 402.69,154.07 402.69,159.13" fill="#2e9e6a"/>
<polyline points="339.04,162.87 345.61,162.45 352.18,162.01 358.75,161.55 365.33,161.07 371.9,160.58 378.47,160.07 385.04,159.55 391.62,159.03 398.19,158.5 404.76,157.97 411.33,157.43 417.9,156.86 424.48,156.26 431.05,155.65 437.62,155.02 444.19,154.33 450.77,153.6 457.34,152.77 463.91,151.73 470.48,150.39 477.05,148.62 483.63,146.02 490.2,142.5 496.77,137.64 503.34,129.6 509.91,113.91 518.4,57.52" fill="none" stroke="#a0166e" stroke-width="1.25" stroke-linejoin="round"/>
<polyline points="518.4,57.52 509.91,95.73 503.34,119.61 496.77,131.42 490.2,138.82 483.63,143.1 477.05,146.11 470.48,148.36 463.91,150.08 457.34,151.47 450.77,152.61 444.19,153.55 437.62,154.36 431.05,155.08 424.48,155.74 417.9,156.34 411.33,156.89 404.76,157.39" fill="none" stroke="#a0166e" stroke-width="1.25" stroke-linejoin="round"/>
<polygon points="339.04,160.11 341.57,164.94 336.51,164.94" fill="#a0166e"/>
<polygon points="345.61,159.69 348.14,164.52 343.08,164.52" fill="#a0166e"/>
<polygon points="352.18,159.25 354.71,164.08 349.65,164.08" fill="#a0166e"/>
<polygon points="358.75,158.79 361.28,163.62 356.22,163.62" fill="#a0166e"/>
<polygon points="365.33,158.31 367.86,163.14 362.8,163.14" fill="#a0166e"/>
<polygon points="371.9,157.82 374.43,162.65 369.37,162.65" fill="#a0166e"/>
<polygon points="378.47,157.31 381,162.14 375.94,162.14" fill="#a0166e"/>
<polygon points="385.04,156.79 387.57,161.62 382.51,161.62" fill="#a0166e"/>
<polygon points="391.62,156.27 394.15,161.1 389.09,161.1" fill="#a0166e"/>
<polygon points="398.19,155.74 400.72,160.57 395.66,160.57" fill="#a0166e"/>
<polygon points="404.76,155.21 407.29,160.04 402.23,160.04" fill="#a0166e"/>
<polygon points="411.33,154.67 413.86,159.5 408.8,159.5" fill="#a0166e"/>
<polygon points="417.9,154.1 420.43,158.93 415.37,158.93" fill="#a0166e"/>
<polygon points="424.48,153.5 427.01,158.33 421.95,158.33" fill="#a0166e"/>
<polygon points="431.05,152.89 433.58,157.72 428.52,157.72" fill="#a0166e"/>
<polygon points="437.62,152.26 440.15,157.09 435.09,157.09" fill="#a0166e"/>
<polygon points="444.19,151.57 446.72,156.4 441.66,156.4" fill="#a0166e"/>
<polygon points="450.77,150.84 453.3,155.67 448.24,155.67" fill="#a0166e"/>
<polygon points="457.34,150.01 459.87,154.84 454.81,154.84" fill="#a0166e"/>
<polygon points="463.91,148.97 466.44,153.8 461.38,153.8" fill="#a0166e"/>
<polygon points="470.48,147.63 473.01,152.46 467.95,152.46" fill="#a0166e"/>
<polygon points="477.05,145.86 479.58,150.69 474.52,150.69" fill="#a0166e"/>
<polygon points="483.63,143.26 486.16,148.09 481.1,148.09" fill="#a0166e"/>
<polygon points="490.2,139.74 492.73,144.57 487.67,144.57" fill="#a0166e"/>
<polygon points="496.77,134.88 499.3,139.71 494.24,139.71" fill="#a0166e"/>
<polygon points="503.34,126.84 505.87,131.67 500.81,131.67" fill="#a0166e"/>
<polygon points="509.91,111.15 512.44,115.98 507.38,115.98" fill="#a0166e"/>
<polygon points="518.4,54.76 520.93,59.59 515.87,59.59" fill="#a0166e"/>
<polygon points="509.91,92.97 512.44,97.8 507.38,97.8" fill="#a0166e"/>
<polygon points="503.34,116.85 505.87,121.68 500.81,121.68" fill="#a0166e"/>
<polygon points="496.77,128.66 499.3,133.49 494.24,133.49" fill="#a0166e"/>
<polygon points="490.2,136.06 492.73,140.89 487.67,140.89" fill="#a0166e"/>
<polygon points="483.63,140.34 486.16,145.17 481.1,145.17" fill="#a0166e"/>
<polygon points="477.05,143.35 479.58,148.18 474.52,148.18" fill="#a0166e"/>
<polygon points="470.48,145.6 473.01,150.43 467.95,150.43" fill="#a0166e"/>
<polygon points="463.91,147.32 466.44,152.15 461.38,152.15" fill="#a0166e"/>
<polygon points="457.34,148.71 459.87,153.54 454.81,153.54" fill="#a0166e"/>
<polygon points="450.77,149.85 453.3,154.68 448.24,154.68" fill="#a0166e"/>
<polygon points="444.19,150.79 446.72,155.62 441.66,155.62" fill="#a0166e"/>
<polygon points="437.62,151.6 440.15,156.43 435.09,156.43" fill="#a0166e"/>
<polygon points="431.05,152.32 433.58,157.15 428.52,157.15" fill="#a0166e"/>
<polygon points="424.48,152.98 427.01,157.81 421.95,157.81" fill="#a0166e"/>
<polygon points="417.9,153.58 420.43,158.41 415.37,158.41" fill="#a0166e"/>
<polygon points="411.33,154.13 413.86,158.96 408.8,158.96" fill="#a0166e"/>
<polygon points="404.76,154.63 407.29,159.46 402.23,159.46" fill="#a0166e"/>
<polyline points="339.04,160.77 345.61,160.37 352.18,159.95 358.75,159.51 365.33,159.04 371.9,158.54 378.47,158.01 385.04,157.46 391.62,156.86 398.19,156.23 404.76,155.56 411.33,154.86 417.9,154.12 424.48,153.35 431.05,152.58 437.62,151.76 444.19,150.86 450.77,149.89 457.34,148.78 463.91,147.4 470.48,145.61 477.05,143.34 483.63,140.31 490.2,136.27 496.77,130.65 503.34,121.57 509.91,103.66 518.4,18.1" fill="none" stroke="#22ee22" stroke-width="1.25" stroke-linejoin="round"/>
<polyline points="518.4,18.1 509.91,70.54 503.34,103.73 496.77,120.91 490.2,131.18 483.63,137.04 477.05,141.59 470.48,144.34 463.91,146.28 457.34,147.86 450.77,149.17 444.19,150.3 437.62,151.35 431.05,152.3 424.48,153.1 417.9,153.75 411.33,154.31 404.76,154.76" fill="none" stroke="#22ee22" stroke-width="1.25" stroke-linejoin="round"/>
<polygon points="339.04,157.9 341.91,160.77 339.04,163.65 336.16,160.77" fill="#22ee22"/>
<polygon points="345.61,157.5 348.49,160.37 345.61,163.25 342.74,160.37" fill="#22ee22"/>
<polygon points="352.18,157.08 355.06,159.95 352.18,162.83 349.31,159.95" fill="#22ee22"/>
<polygon points="358.75,156.63 361.63,159.51 358.75,162.38 355.88,159.51" fill="#22ee22"/>
<polygon points="365.33,156.16 368.2,159.04 365.33,161.91 362.45,159.04" fill="#22ee22"/>
<polygon points="371.9,155.67 374.77,158.54 371.9,161.42 369.02,158.54" fill="#22ee22"/>
<polygon points="378.47,155.14 381.35,158.01 378.47,160.89 375.6,158.01" fill="#22ee22"/>
<polygon points="385.04,154.58 387.92,157.46 385.04,160.33 382.17,157.46" fill="#22ee22"/>
<polygon points="391.62,153.99 394.49,156.86 391.62,159.74 388.74,156.86" fill="#22ee22"/>
<polygon points="398.19,153.36 401.06,156.23 398.19,159.11 395.31,156.23" fill="#22ee22"/>
<polygon points="404.76,152.69 407.63,155.56 404.76,158.44 401.88,155.56" fill="#22ee22"/>
<polygon points="411.33,151.98 414.21,154.86 411.33,157.73 408.46,154.86" fill="#22ee22"/>
<polygon points="417.9,151.25 420.78,154.12 417.9,157 415.03,154.12" fill="#22ee22"/>
<polygon points="424.48,150.48 427.35,153.35 424.48,156.23 421.6,153.35" fill="#22ee22"/>
<polygon points="431.05,149.7 433.92,152.58 431.05,155.45 428.17,152.58" fill="#22ee22"/>
<polygon points="437.62,148.89 440.5,151.76 437.62,154.64 434.75,151.76" fill="#22ee22"/>
<polygon points="444.19,147.98 447.07,150.86 444.19,153.73 441.32,150.86" fill="#22ee22"/>
<polygon points="450.77,147.01 453.64,149.89 450.77,152.76 447.89,149.89" fill="#22ee22"/>
<polygon points="457.34,145.9 460.21,148.78 457.34,151.65 454.46,148.78" fill="#22ee22"/>
<polygon points="463.91,144.52 466.78,147.4 463.91,150.27 461.03,147.4" fill="#22ee22"/>
<polygon points="470.48,142.73 473.36,145.61 470.48,148.48 467.61,145.61" fill="#22ee22"/>
<polygon points="477.05,140.46 479.93,143.34 477.05,146.21 474.18,143.34" fill="#22ee22"/>
<polygon points="483.63,137.43 486.5,140.31 483.63,143.18 480.75,140.31" fill="#22ee22"/>
<polygon points="490.2,133.39 493.07,136.27 490.2,139.14 487.32,136.27" fill="#22ee22"/>
<polygon points="496.77,127.78 499.65,130.65 496.77,133.53 493.9,130.65" fill="#22ee22"/>
<polygon points="503.34,118.69 506.22,121.57 503.34,124.44 500.47,121.57" fill="#22ee22"/>
<polygon points="509.91,100.79 512.79,103.66 509.91,106.54 507.04,103.66" fill="#22ee22"/>
<polygon points="518.4,15.23 521.27,18.1 518.4,20.98 515.52,18.1" fill="#22ee22"/>
<polygon points="509.91,67.66 512.79,70.54 509.91,73.41 507.04,70.54" fill="#22ee22"/>
<polygon points="503.34,100.86 506.22,103.73 503.34,106.61 500.47,103.73" fill="#22ee22"/>
<polygon points="496.77,118.03 499.65,120.91 496.77,123.78 493.9,120.91" fill="#22ee22"/>
<polygon points="490.2,128.31 493.07,131.18 490.2,134.06 487.32,131.18" fill="#22ee22"/>
<polygon points="483.63,134.17 486.5,137.04 483.63,139.92 480.75,137.04" fill="#22ee22"/>
<polygon points="477.05,138.72 479.93,141.59 477.05,144.47 474.18,141.59" fill="#22ee22"/>
<polygon points="470.48,141.46 473.36,144.34 470.48,147.21 467.61,144.34" fill="#22ee22"/>
<polygon points="463.91,143.41 466.78,146.28 463.91,149.16 461.03,146.28" fill="#22ee22"/>
<polygon points="457.34,144.99 460.21,147.86 457.34,150.74 454.46,147.86" fill="#22ee22"/>
<polygon points="450.77,146.29 453.64,149.17 450.77,152.04 447.89,149.17" fill="#22ee22"/>
<polygon points="444.19,147.43 447.07,150.3 444.19,153.18 441.32,150.3" fill="#22ee22"/>
<polygon points="437.62,148.48 440.5,151.35 437.62,154.23 434.75,151.35" fill="#22ee22"/>
<polygon points="431.05,149.43 433.92,152.3 431.05,155.18 428.17,152.3" fill="#22ee22"/>
<polygon points="424.48,150.23 427.35,153.1 424.48,155.98 421.6,153.1" fill="#22ee22"/>
<polygon points="417.9,150.88 420.78,153.75 417.9,156.63 415.03,153.75" fill="#22ee22"/>
<polygon points="411.33,151.43 414.21,154.31 411.33,157.18 408.46,154.31" fill="#22ee22"/>
<polygon points="404.76,151.89 407.63,154.76 404.76,157.64 401.88,154.76" fill="#22ee22"/>
<polyline points="339.04,163.92 345.61,163.45 352.18,162.96 358.75,162.45 365.33,161.92 371.9,161.38 378.47,160.85 385.04,160.34 391.62,159.85 398.19,159.4 404.76,158.97 411.33,158.53 417.9,158.08 424.48,157.59 431.05,157.07 437.62,156.53 444.19,155.93 450.77,155.27 457.34,154.53 463.91,153.63 470.48,152.49 477.05,151 483.63,148.79 490.2,145.92 496.77,142.22 503.34,135.25 509.91,121.19 517.07,75.92" fill="none" stroke="#ff1a1a" stroke-width="1.25" stroke-linejoin="round"/>
<polyline points="517.07,75.92 509.91,96.19 503.34,118.49 496.77,132.99 490.2,140.13 483.63,144.67 477.05,147.6 470.48,149.65 463.91,151.15 457.34,152.35 450.77,153.39 444.19,154.33 437.62,155.17 431.05,155.9 424.48,156.53 417.9,157.07 411.33,157.52 404.76,157.91" fill="none" stroke="#ff1a1a" stroke-width="1.25" stroke-linejoin="round"/>
<circle cx="339.04" cy="163.92" r="2.42" fill="#ff1a1a"/>
<circle cx="345.61" cy="163.45" r="2.42" fill="#ff1a1a"/>
<circle cx="352.18" cy="162.96" r="2.42" fill="#ff1a1a"/>
<circle cx="358.75" cy="162.45" r="2.42" fill="#ff1a1a"/>
<circle cx="365.33" cy="161.92" r="2.42" fill="#ff1a1a"/>
<circle cx="371.9" cy="161.38" r="2.42" fill="#ff1a1a"/>
<circle cx="378.47" cy="160.85" r="2.42" fill="#ff1a1a"/>
<circle cx="385.04" cy="160.34" r="2.42" fill="#ff1a1a"/>
<circle cx="391.62" cy="159.85" r="2.42" fill="#ff1a1a"/>
<circle cx="398.19" cy="159.4" r="2.42" fill="#ff1a1a"/>
<circle cx="404.76" cy="158.97" r="2.42" fill="#ff1a1a"/>
<circle cx="411.33" cy="158.53" r="2.42" fill="#ff1a1a"/>
<circle cx="417.9" cy="158.08" r="2.42" fill="#ff1a1a"/>
<circle cx="424.48" cy="157.59" r="2.42" fill="#ff1a1a"/>
<circle cx="431.05" cy="157.07" r="2.42" fill="#ff1a1a"/>
<circle cx="437.62" cy="156.53" r="2.42" fill="#ff1a1a"/>
<circle cx="444.19" cy="155.93" r="2.42" fill="#ff1a1a"/>
<circle cx="450.77" cy="155.27" r="2.42" fill="#ff1a1a"/>
<circle cx="457.34" cy="154.53" r="2.42" fill="#ff1a1a"/>
<circle cx="463.91" cy="153.63" r="2.42" fill="#ff1a1a"/>
<circle cx="470.48" cy="152.49" r="2.42" fill="#ff1a1a"/>
<circle cx="477.05" cy="151" r="2.42" fill="#ff1a1a"/>
<circle cx="483.63" cy="148.79" r="2.42" fill="#ff1a1a"/>
<circle cx="490.2" cy="145.92" r="2.42" fill="#ff1a1a"/>
<circle cx="496.77" cy="142.22" r="2.42" fill="#ff1a1a"/>
<circle cx="503.34" cy="135.25" r="2.42" fill="#ff1a1a"/>
<circle cx="509.91" cy="121.19" r="2.42" fill="#ff1a1a"/>
<circle cx="517.07" cy="75.92" r="2.42" fill="#ff1a1a"/>
<circle cx="509.91" cy="96.19" r="2.42" fill="#ff1a1a"/>
<circle cx="503.34" cy="118.49" r="2.42" fill="#ff1a1a"/>
<circle cx="496.77" cy="132.99" r="2.42" fill="#ff1a1a"/>
<circle cx="490.2" cy="140.13" r="2.42" fill="#ff1a1a"/>
<circle cx="483.63" cy="144.67" r="2.42" fill="#ff1a1a"/>
<circle cx="477.05" cy="147.6" r="2.42" fill="#ff1a1a"/>
<circle cx="470.48" cy="149.65" r="2.42" fill="#ff1a1a"/>
<circle cx="463.91" cy="151.15" r="2.42" fill="#ff1a1a"/>
<circle cx="457.34" cy="152.35" r="2.42" fill="#ff1a1a"/>
<circle cx="450.77" cy="153.39" r="2.42" fill="#ff1a1a"/>
<circle cx="444.19" cy="154.33" r="2.42" fill="#ff1a1a"/>
<circle cx="437.62" cy="155.17" r="2.42" fill="#ff1a1a"/>
<circle cx="431.05" cy="155.9" r="2.42" fill="#ff1a1a"/>
<circle cx="424.48" cy="156.53" r="2.42" fill="#ff1a1a"/>
<circle cx="417.9" cy="157.07" r="2.42" fill="#ff1a1a"/>
<circle cx="411.33" cy="157.52" r="2.42" fill="#ff1a1a"/>
<circle cx="404.76" cy="157.91" r="2.42" fill="#ff1a1a"/>
<rect x="325.5" y="10.5" width="211.8" height="170.6" fill="none" stroke="#1a1a1a" stroke-width="1.5"/>
<line x1="322.5" y1="167.9" x2="325.5" y2="167.9" stroke="#1a1a1a" stroke-width="1.1"/>
<text x="319.8" y="171.5" font-size="11" text-anchor="end" font-family="Liberation Serif" font-weight="bold" stroke="#111" stroke-width="0.28" fill="#111">0</text>
<line x1="322.5" y1="141.62" x2="325.5" y2="141.62" stroke="#1a1a1a" stroke-width="1.1"/>
<text x="319.8" y="145.22" font-size="11" text-anchor="end" font-family="Liberation Serif" font-weight="bold" stroke="#111" stroke-width="0.28" fill="#111">10</text>
<line x1="322.5" y1="115.34" x2="325.5" y2="115.34" stroke="#1a1a1a" stroke-width="1.1"/>
<text x="319.8" y="118.94" font-size="11" text-anchor="end" font-family="Liberation Serif" font-weight="bold" stroke="#111" stroke-width="0.28" fill="#111">20</text>
<line x1="322.5" y1="89.06" x2="325.5" y2="89.06" stroke="#1a1a1a" stroke-width="1.1"/>
<text x="319.8" y="92.66" font-size="11" text-anchor="end" font-family="Liberation Serif" font-weight="bold" stroke="#111" stroke-width="0.28" fill="#111">30</text>
<line x1="322.5" y1="62.78" x2="325.5" y2="62.78" stroke="#1a1a1a" stroke-width="1.1"/>
<text x="319.8" y="66.38" font-size="11" text-anchor="end" font-family="Liberation Serif" font-weight="bold" stroke="#111" stroke-width="0.28" fill="#111">40</text>
<line x1="322.5" y1="36.5" x2="325.5" y2="36.5" stroke="#1a1a1a" stroke-width="1.1"/>
<text x="319.8" y="40.1" font-size="11" text-anchor="end" font-family="Liberation Serif" font-weight="bold" stroke="#111" stroke-width="0.28" fill="#111">50</text>
<line x1="322.5" y1="10.22" x2="325.5" y2="10.22" stroke="#1a1a1a" stroke-width="1.1"/>
<text x="319.8" y="13.82" font-size="11" text-anchor="end" font-family="Liberation Serif" font-weight="bold" stroke="#111" stroke-width="0.28" fill="#111">60</text>
<line x1="323.5" y1="154.76" x2="325.5" y2="154.76" stroke="#1a1a1a" stroke-width="1.1"/>
<line x1="323.5" y1="128.48" x2="325.5" y2="128.48" stroke="#1a1a1a" stroke-width="1.1"/>
<line x1="323.5" y1="102.2" x2="325.5" y2="102.2" stroke="#1a1a1a" stroke-width="1.1"/>
<line x1="323.5" y1="75.92" x2="325.5" y2="75.92" stroke="#1a1a1a" stroke-width="1.1"/>
<line x1="323.5" y1="49.64" x2="325.5" y2="49.64" stroke="#1a1a1a" stroke-width="1.1"/>
<line x1="323.5" y1="23.36" x2="325.5" y2="23.36" stroke="#1a1a1a" stroke-width="1.1"/>
<line x1="329" y1="181.1" x2="329" y2="184.1" stroke="#1a1a1a" stroke-width="1.1"/>
<text x="329" y="195.6" font-size="11" text-anchor="middle" font-family="Liberation Serif" font-weight="bold" stroke="#111" stroke-width="0.28" fill="#111">0.0</text>
<line x1="366.88" y1="181.1" x2="366.88" y2="184.1" stroke="#1a1a1a" stroke-width="1.1"/>
<text x="366.88" y="195.6" font-size="11" text-anchor="middle" font-family="Liberation Serif" font-weight="bold" stroke="#111" stroke-width="0.28" fill="#111">0.2</text>
<line x1="404.76" y1="181.1" x2="404.76" y2="184.1" stroke="#1a1a1a" stroke-width="1.1"/>
<text x="404.76" y="195.6" font-size="11" text-anchor="middle" font-family="Liberation Serif" font-weight="bold" stroke="#111" stroke-width="0.28" fill="#111">0.4</text>
<line x1="442.64" y1="181.1" x2="442.64" y2="184.1" stroke="#1a1a1a" stroke-width="1.1"/>
<text x="442.64" y="195.6" font-size="11" text-anchor="middle" font-family="Liberation Serif" font-weight="bold" stroke="#111" stroke-width="0.28" fill="#111">0.6</text>
<line x1="480.52" y1="181.1" x2="480.52" y2="184.1" stroke="#1a1a1a" stroke-width="1.1"/>
<text x="480.52" y="195.6" font-size="11" text-anchor="middle" font-family="Liberation Serif" font-weight="bold" stroke="#111" stroke-width="0.28" fill="#111">0.8</text>
<line x1="518.4" y1="181.1" x2="518.4" y2="184.1" stroke="#1a1a1a" stroke-width="1.1"/>
<text x="518.4" y="195.6" font-size="11" text-anchor="middle" font-family="Liberation Serif" font-weight="bold" stroke="#111" stroke-width="0.28" fill="#111">1.0</text>
<line x1="347.94" y1="181.1" x2="347.94" y2="183.1" stroke="#1a1a1a" stroke-width="1.1"/>
<line x1="385.82" y1="181.1" x2="385.82" y2="183.1" stroke="#1a1a1a" stroke-width="1.1"/>
<line x1="423.7" y1="181.1" x2="423.7" y2="183.1" stroke="#1a1a1a" stroke-width="1.1"/>
<line x1="461.58" y1="181.1" x2="461.58" y2="183.1" stroke="#1a1a1a" stroke-width="1.1"/>
<line x1="499.46" y1="181.1" x2="499.46" y2="183.1" stroke="#1a1a1a" stroke-width="1.1"/>
<text x="357.9" y="213.3" font-size="14.5" font-family="Liberation Serif" font-weight="bold" stroke="#111" stroke-width="0.28" fill="#111">Relative Pressure <tspan font-size="12.5">(</tspan>P/P<tspan font-size="13.5" dy="2.5">0</tspan><tspan font-size="13.5" dy="-2.5">)</tspan></text>
<text transform="translate(294.8 187.7) rotate(-90)" x="0" y="0" font-size="14.4" font-family="Liberation Serif" font-weight="bold" stroke="#111" stroke-width="0.28" fill="#111">Quantity Adsorbed (cm<tspan font-size="9" dy="-5">3</tspan><tspan dy="5">/g </tspan><tspan font-size="10" dy="0.3">)</tspan></text>
<text x="269" y="27.2" font-size="22" text-anchor="start" font-family="Liberation Sans" font-weight="bold" fill="#000">B</text>
<line x1="329.4" y1="17.8" x2="348.6" y2="17.8" stroke="#1a1aff" stroke-width="1.25"/>
<rect x="337" y="15.5" width="4.6" height="4.6" fill="#1a1aff"/>
<text x="351.6" y="21.3" font-size="9.6" text-anchor="start" font-family="Liberation Serif" font-weight="bold" stroke="#111" stroke-width="0.28" fill="#111">ZnS</text>
<line x1="329.4" y1="29.8" x2="348.6" y2="29.8" stroke="#ff8c1a" stroke-width="1.25"/>
<circle cx="339.3" cy="29.8" r="2.42" fill="#ff8c1a"/>
<text x="351.6" y="33.3" font-size="9.6" text-anchor="start" font-family="Liberation Serif" font-weight="bold" stroke="#111" stroke-width="0.28" fill="#111">10% CuS/ZnS</text>
<line x1="329.4" y1="41.8" x2="348.6" y2="41.8" stroke="#2e9e6a" stroke-width="1.25"/>
<polygon points="342.06,41.8 337.23,39.27 337.23,44.33" fill="#2e9e6a"/>
<text x="351.6" y="45.3" font-size="9.6" text-anchor="start" font-family="Liberation Serif" font-weight="bold" stroke="#111" stroke-width="0.28" fill="#111">15% CuS/ZnS</text>
<line x1="329.4" y1="53.8" x2="348.6" y2="53.8" stroke="#a0166e" stroke-width="1.25"/>
<polygon points="339.3,51.04 341.83,55.87 336.77,55.87" fill="#a0166e"/>
<text x="351.6" y="57.3" font-size="9.6" text-anchor="start" font-family="Liberation Serif" font-weight="bold" stroke="#111" stroke-width="0.28" fill="#111">20% CuS/ZnS</text>
<line x1="329.4" y1="65.8" x2="348.6" y2="65.8" stroke="#22ee22" stroke-width="1.25"/>
<polygon points="339.3,62.92 342.18,65.8 339.3,68.67 336.43,65.8" fill="#22ee22"/>
<text x="351.6" y="69.3" font-size="9.6" text-anchor="start" font-family="Liberation Serif" font-weight="bold" stroke="#111" stroke-width="0.28" fill="#111">25% CuS/ZnS</text>
<line x1="329.4" y1="77.8" x2="348.6" y2="77.8" stroke="#ff1a1a" stroke-width="1.25"/>
<circle cx="339.3" cy="77.8" r="2.42" fill="#ff1a1a"/>
<text x="351.6" y="81.3" font-size="9.6" text-anchor="start" font-family="Liberation Serif" font-weight="bold" stroke="#111" stroke-width="0.28" fill="#111">30% CuS/ZnS</text>
<polyline points="72.1,384.4 79.2,383 84.1,382 88.4,381.1 93.3,379.4 98.3,379.7 106.7,378.7 122.3,377.6 151,376 213,375" fill="none" stroke="#111111" stroke-width="1.05" stroke-linejoin="round"/>
<rect x="70.4" y="382.7" width="3.4" height="3.4" fill="#111111"/>
<rect x="77.5" y="381.3" width="3.4" height="3.4" fill="#111111"/>
<rect x="82.4" y="380.3" width="3.4" height="3.4" fill="#111111"/>
<rect x="86.7" y="379.4" width="3.4" height="3.4" fill="#111111"/>
<rect x="91.6" y="377.7" width="3.4" height="3.4" fill="#111111"/>
<rect x="96.6" y="378" width="3.4" height="3.4" fill="#111111"/>
<rect x="105" y="377" width="3.4" height="3.4" fill="#111111"/>
<rect x="120.6" y="375.9" width="3.4" height="3.4" fill="#111111"/>
<rect x="149.3" y="374.3" width="3.4" height="3.4" fill="#111111"/>
<rect x="211.3" y="373.3" width="3.4" height="3.4" fill="#111111"/>
<polyline points="64.5,384.5 66.5,381 68.5,385 70,380 71.9,342.3 72.8,366 78.8,361.3 85.5,358.2 95.1,352.7 103.9,349.7 113.1,340.7 127.7,326.4 163.3,327.6 245.9,359.7" fill="none" stroke="#f04848" stroke-width="1.05" stroke-linejoin="round"/>
<circle cx="64.5" cy="384.5" r="2.36" fill="#f04848"/>
<circle cx="66.5" cy="381" r="2.36" fill="#f04848"/>
<circle cx="68.5" cy="385" r="2.36" fill="#f04848"/>
<circle cx="70" cy="380" r="2.36" fill="#f04848"/>
<circle cx="71.9" cy="342.3" r="2.36" fill="#f04848"/>
<circle cx="72.8" cy="366" r="2.36" fill="#f04848"/>
<circle cx="78.8" cy="361.3" r="2.36" fill="#f04848"/>
<circle cx="85.5" cy="358.2" r="2.36" fill="#f04848"/>
<circle cx="95.1" cy="352.7" r="2.36" fill="#f04848"/>
<circle cx="103.9" cy="349.7" r="2.36" fill="#f04848"/>
<circle cx="113.1" cy="340.7" r="2.36" fill="#f04848"/>
<circle cx="127.7" cy="326.4" r="2.36" fill="#f04848"/>
<circle cx="163.3" cy="327.6" r="2.36" fill="#f04848"/>
<circle cx="245.9" cy="359.7" r="2.36" fill="#f04848"/>
<polyline points="64.5,383 67,386 69.5,382 71.5,370 72.5,352.5 74.4,365.1 78.8,358.2 81.9,355.7 86.3,353.8 90.1,351 100,350.9 110.1,347.7 127.7,333.1 163.3,326.5 243.3,361.7" fill="none" stroke="#1f6ee0" stroke-width="1.05" stroke-linejoin="round"/>
<polygon points="64.5,380.3 66.97,385.02 62.02,385.02" fill="#1f6ee0"/>
<polygon points="67,383.3 69.47,388.02 64.53,388.02" fill="#1f6ee0"/>
<polygon points="69.5,379.3 71.97,384.02 67.03,384.02" fill="#1f6ee0"/>
<polygon points="71.5,367.3 73.97,372.02 69.03,372.02" fill="#1f6ee0"/>
<polygon points="72.5,349.8 74.97,354.52 70.03,354.52" fill="#1f6ee0"/>
<polygon points="74.4,362.4 76.88,367.12 71.93,367.12" fill="#1f6ee0"/>
<polygon points="78.8,355.5 81.27,360.22 76.33,360.22" fill="#1f6ee0"/>
<polygon points="81.9,353 84.38,357.72 79.43,357.72" fill="#1f6ee0"/>
<polygon points="86.3,351.1 88.77,355.82 83.83,355.82" fill="#1f6ee0"/>
<polygon points="90.1,348.3 92.57,353.02 87.62,353.02" fill="#1f6ee0"/>
<polygon points="100,348.2 102.47,352.92 97.53,352.92" fill="#1f6ee0"/>
<polygon points="110.1,345 112.57,349.72 107.62,349.72" fill="#1f6ee0"/>
<polygon points="127.7,330.4 130.18,335.12 125.23,335.12" fill="#1f6ee0"/>
<polygon points="163.3,323.8 165.78,328.52 160.83,328.52" fill="#1f6ee0"/>
<polygon points="243.3,359 245.78,363.72 240.83,363.72" fill="#1f6ee0"/>
<polyline points="64.5,382 67.5,385.5 70.7,372.3 75,371.3 78.8,362.6 87,355 93.8,349.7 108.9,343.9 127.2,327.6 166.5,298.2" fill="none" stroke="#2aa064" stroke-width="1.05" stroke-linejoin="round"/>
<polygon points="64.5,384.7 66.97,379.98 62.02,379.98" fill="#2aa064"/>
<polygon points="67.5,388.2 69.97,383.48 65.03,383.48" fill="#2aa064"/>
<polygon points="70.7,375 73.17,370.28 68.23,370.28" fill="#2aa064"/>
<polygon points="75,374 77.47,369.28 72.53,369.28" fill="#2aa064"/>
<polygon points="78.8,365.3 81.27,360.58 76.33,360.58" fill="#2aa064"/>
<polygon points="87,357.7 89.47,352.98 84.53,352.98" fill="#2aa064"/>
<polygon points="93.8,352.4 96.27,347.68 91.33,347.68" fill="#2aa064"/>
<polygon points="108.9,346.6 111.38,341.88 106.43,341.88" fill="#2aa064"/>
<polygon points="127.2,330.3 129.68,325.58 124.73,325.58" fill="#2aa064"/>
<polygon points="166.5,300.9 168.97,296.18 164.03,296.18" fill="#2aa064"/>
<polyline points="65.5,386 68.8,384.5 71.9,376.4 75,372.6 78.2,368.8 81.9,362.6 85.7,352.3 88.8,343.1 93.2,336.3 99.6,324.4 111.4,306.3 131.5,280.9 172,258.2" fill="none" stroke="#b072e8" stroke-width="1.05" stroke-linejoin="round"/>
<polygon points="65.5,383.19 68.31,386 65.5,388.81 62.69,386" fill="#b072e8"/>
<polygon points="68.8,381.69 71.61,384.5 68.8,387.31 65.99,384.5" fill="#b072e8"/>
<polygon points="71.9,373.59 74.71,376.4 71.9,379.21 69.09,376.4" fill="#b072e8"/>
<polygon points="75,369.79 77.81,372.6 75,375.41 72.19,372.6" fill="#b072e8"/>
<polygon points="78.2,365.99 81.01,368.8 78.2,371.61 75.39,368.8" fill="#b072e8"/>
<polygon points="81.9,359.79 84.71,362.6 81.9,365.41 79.09,362.6" fill="#b072e8"/>
<polygon points="85.7,349.49 88.51,352.3 85.7,355.11 82.89,352.3" fill="#b072e8"/>
<polygon points="88.8,340.29 91.61,343.1 88.8,345.91 85.99,343.1" fill="#b072e8"/>
<polygon points="93.2,333.49 96.01,336.3 93.2,339.11 90.39,336.3" fill="#b072e8"/>
<polygon points="99.6,321.59 102.41,324.4 99.6,327.21 96.79,324.4" fill="#b072e8"/>
<polygon points="111.4,303.49 114.21,306.3 111.4,309.11 108.59,306.3" fill="#b072e8"/>
<polygon points="131.5,278.09 134.31,280.9 131.5,283.71 128.69,280.9" fill="#b072e8"/>
<polygon points="172,255.39 174.81,258.2 172,261.01 169.19,258.2" fill="#b072e8"/>
<polyline points="64.5,380.5 66.5,383.5 69,385 71,382.5 73.5,380.5 76.4,378 80.5,375.3 84.8,371 89.1,361.8 95.9,352.7 102.6,333.9 113.9,317.1 129.2,296.8 167.4,305.5 246.5,355.3" fill="none" stroke="#d4a020" stroke-width="1.05" stroke-linejoin="round"/>
<polygon points="61.8,380.5 66.53,378.02 66.53,382.98" fill="#d4a020"/>
<polygon points="63.8,383.5 68.53,381.02 68.53,385.98" fill="#d4a020"/>
<polygon points="66.3,385 71.03,382.52 71.03,387.48" fill="#d4a020"/>
<polygon points="68.3,382.5 73.03,380.02 73.03,384.98" fill="#d4a020"/>
<polygon points="70.8,380.5 75.53,378.02 75.53,382.98" fill="#d4a020"/>
<polygon points="73.7,378 78.43,375.52 78.43,380.48" fill="#d4a020"/>
<polygon points="77.8,375.3 82.53,372.82 82.53,377.78" fill="#d4a020"/>
<polygon points="82.1,371 86.83,368.52 86.83,373.48" fill="#d4a020"/>
<polygon points="86.4,361.8 91.12,359.32 91.12,364.28" fill="#d4a020"/>
<polygon points="93.2,352.7 97.93,350.22 97.93,355.18" fill="#d4a020"/>
<polygon points="99.9,333.9 104.62,331.42 104.62,336.38" fill="#d4a020"/>
<polygon points="111.2,317.1 115.93,314.62 115.93,319.58" fill="#d4a020"/>
<polygon points="126.5,296.8 131.22,294.32 131.22,299.28" fill="#d4a020"/>
<polygon points="164.7,305.5 169.43,303.02 169.43,307.98" fill="#d4a020"/>
<polygon points="243.8,355.3 248.53,352.82 248.53,357.78" fill="#d4a020"/>
<rect x="52.3" y="238" width="200.2" height="161.1" fill="none" stroke="#1a1a1a" stroke-width="1.5"/>
<line x1="49.3" y1="385.1" x2="52.3" y2="385.1" stroke="#1a1a1a" stroke-width="1.1"/>
<text x="48" y="387.9" font-size="11" text-anchor="end" font-family="Liberation Serif" font-weight="bold" stroke="#111" stroke-width="0.28" fill="#111">0.00</text>
<line x1="49.3" y1="358.5" x2="52.3" y2="358.5" stroke="#1a1a1a" stroke-width="1.1"/>
<text x="48" y="361.3" font-size="11" text-anchor="end" font-family="Liberation Serif" font-weight="bold" stroke="#111" stroke-width="0.28" fill="#111">0.02</text>
<line x1="49.3" y1="331.9" x2="52.3" y2="331.9" stroke="#1a1a1a" stroke-width="1.1"/>
<text x="48" y="334.7" font-size="11" text-anchor="end" font-family="Liberation Serif" font-weight="bold" stroke="#111" stroke-width="0.28" fill="#111">0.04</text>
<line x1="49.3" y1="305.3" x2="52.3" y2="305.3" stroke="#1a1a1a" stroke-width="1.1"/>
<text x="48" y="308.1" font-size="11" text-anchor="end" font-family="Liberation Serif" font-weight="bold" stroke="#111" stroke-width="0.28" fill="#111">0.06</text>
<line x1="49.3" y1="278.7" x2="52.3" y2="278.7" stroke="#1a1a1a" stroke-width="1.1"/>
<text x="48" y="281.5" font-size="11" text-anchor="end" font-family="Liberation Serif" font-weight="bold" stroke="#111" stroke-width="0.28" fill="#111">0.08</text>
<line x1="49.3" y1="252.1" x2="52.3" y2="252.1" stroke="#1a1a1a" stroke-width="1.1"/>
<text x="48" y="254.9" font-size="11" text-anchor="end" font-family="Liberation Serif" font-weight="bold" stroke="#111" stroke-width="0.28" fill="#111">0.10</text>
<line x1="50.3" y1="371.8" x2="52.3" y2="371.8" stroke="#1a1a1a" stroke-width="1.1"/>
<line x1="50.3" y1="345.2" x2="52.3" y2="345.2" stroke="#1a1a1a" stroke-width="1.1"/>
<line x1="50.3" y1="318.6" x2="52.3" y2="318.6" stroke="#1a1a1a" stroke-width="1.1"/>
<line x1="50.3" y1="292" x2="52.3" y2="292" stroke="#1a1a1a" stroke-width="1.1"/>
<line x1="50.3" y1="265.4" x2="52.3" y2="265.4" stroke="#1a1a1a" stroke-width="1.1"/>
<line x1="50.3" y1="238.8" x2="52.3" y2="238.8" stroke="#1a1a1a" stroke-width="1.1"/>
<line x1="59.9" y1="399.1" x2="59.9" y2="402.1" stroke="#1a1a1a" stroke-width="1.1"/>
<text x="59.9" y="412.7" font-size="10.7" text-anchor="middle" font-family="Liberation Serif" font-weight="bold" stroke="#111" stroke-width="0.28" fill="#111">0</text>
<line x1="94.95" y1="399.1" x2="94.95" y2="402.1" stroke="#1a1a1a" stroke-width="1.1"/>
<text x="94.95" y="412.7" font-size="10.7" text-anchor="middle" font-family="Liberation Serif" font-weight="bold" stroke="#111" stroke-width="0.28" fill="#111">10</text>
<line x1="130" y1="399.1" x2="130" y2="402.1" stroke="#1a1a1a" stroke-width="1.1"/>
<text x="130" y="412.7" font-size="10.7" text-anchor="middle" font-family="Liberation Serif" font-weight="bold" stroke="#111" stroke-width="0.28" fill="#111">20</text>
<line x1="165.05" y1="399.1" x2="165.05" y2="402.1" stroke="#1a1a1a" stroke-width="1.1"/>
<text x="165.05" y="412.7" font-size="10.7" text-anchor="middle" font-family="Liberation Serif" font-weight="bold" stroke="#111" stroke-width="0.28" fill="#111">30</text>
<line x1="200.1" y1="399.1" x2="200.1" y2="402.1" stroke="#1a1a1a" stroke-width="1.1"/>
<text x="200.1" y="412.7" font-size="10.7" text-anchor="middle" font-family="Liberation Serif" font-weight="bold" stroke="#111" stroke-width="0.28" fill="#111">40</text>
<line x1="235.15" y1="399.1" x2="235.15" y2="402.1" stroke="#1a1a1a" stroke-width="1.1"/>
<text x="235.15" y="412.7" font-size="10.7" text-anchor="middle" font-family="Liberation Serif" font-weight="bold" stroke="#111" stroke-width="0.28" fill="#111">50</text>
<line x1="77.42" y1="399.1" x2="77.42" y2="401.1" stroke="#1a1a1a" stroke-width="1.1"/>
<line x1="112.47" y1="399.1" x2="112.47" y2="401.1" stroke="#1a1a1a" stroke-width="1.1"/>
<line x1="147.53" y1="399.1" x2="147.53" y2="401.1" stroke="#1a1a1a" stroke-width="1.1"/>
<line x1="182.57" y1="399.1" x2="182.57" y2="401.1" stroke="#1a1a1a" stroke-width="1.1"/>
<line x1="217.62" y1="399.1" x2="217.62" y2="401.1" stroke="#1a1a1a" stroke-width="1.1"/>
<text x="105.7" y="432.4" font-size="13.8" text-anchor="start" font-family="Liberation Serif" font-weight="bold" stroke="#111" stroke-width="0.28" fill="#111">Pore width (nm)</text>
<text transform="translate(15.7 323.5) rotate(-90)" x="0" y="0" text-anchor="middle" font-size="13.5" font-family="Liberation Serif" font-weight="bold" stroke="#111" stroke-width="0.28" fill="#111">Pore Volume (cm<tspan font-size="9" dy="-5">3</tspan><tspan dy="5">/g)</tspan></text>
<text x="3.4" y="255.2" font-size="22.3" text-anchor="start" font-family="Liberation Sans" font-weight="bold" fill="#000">C</text>
<line x1="175.5" y1="243.3" x2="193.7" y2="243.3" stroke="#111111" stroke-width="1.2"/>
<rect x="182.75" y="241.45" width="3.7" height="3.7" fill="#111111"/>
<text x="196" y="246.6" font-size="9.2" text-anchor="start" font-family="Liberation Serif" font-weight="bold" stroke="#111" stroke-width="0.28" fill="#111">ZnS</text>
<line x1="175.5" y1="254.6" x2="193.7" y2="254.6" stroke="#f04848" stroke-width="1.2"/>
<circle cx="184.6" cy="254.6" r="1.94" fill="#f04848"/>
<text x="196" y="257.9" font-size="9.2" text-anchor="start" font-family="Liberation Serif" font-weight="bold" stroke="#111" stroke-width="0.28" fill="#111">10% CuS/ZnS</text>
<line x1="175.5" y1="266" x2="193.7" y2="266" stroke="#1f6ee0" stroke-width="1.2"/>
<polygon points="184.6,263.78 186.63,267.67 182.56,267.67" fill="#1f6ee0"/>
<text x="196" y="269.3" font-size="9.2" text-anchor="start" font-family="Liberation Serif" font-weight="bold" stroke="#111" stroke-width="0.28" fill="#111">15% CuS/ZnS</text>
<line x1="175.5" y1="277.7" x2="193.7" y2="277.7" stroke="#2aa064" stroke-width="1.2"/>
<polygon points="184.6,279.92 186.63,276.03 182.56,276.03" fill="#2aa064"/>
<text x="196" y="281" font-size="9.2" text-anchor="start" font-family="Liberation Serif" font-weight="bold" stroke="#111" stroke-width="0.28" fill="#111">20% CuS/ZnS</text>
<line x1="175.5" y1="289.2" x2="193.7" y2="289.2" stroke="#b072e8" stroke-width="1.2"/>
<polygon points="184.6,286.89 186.91,289.2 184.6,291.51 182.29,289.2" fill="#b072e8"/>
<text x="196" y="292.5" font-size="9.2" text-anchor="start" font-family="Liberation Serif" font-weight="bold" stroke="#111" stroke-width="0.28" fill="#111">25% CuS/ZnS</text>
<line x1="175.5" y1="300.1" x2="193.7" y2="300.1" stroke="#d4a020" stroke-width="1.2"/>
<polygon points="182.38,300.1 186.26,298.06 186.26,302.14" fill="#d4a020"/>
<text x="196" y="303.4" font-size="9.2" text-anchor="start" font-family="Liberation Serif" font-weight="bold" stroke="#111" stroke-width="0.28" fill="#111">30% CuS/ZnS</text>
<circle cx="351.28" cy="390.5" r="2.21" fill="#555555"/>
<circle cx="376.23" cy="387.2" r="2.21" fill="#555555"/>
<circle cx="401.18" cy="378.2" r="2.21" fill="#555555"/>
<circle cx="426.12" cy="373.7" r="2.21" fill="#555555"/>
<circle cx="451.07" cy="367.7" r="2.21" fill="#555555"/>
<circle cx="476.02" cy="365.8" r="2.21" fill="#555555"/>
<circle cx="500.98" cy="365.8" r="2.21" fill="#555555"/>
<circle cx="525.92" cy="365" r="2.21" fill="#555555"/>
<rect x="349.18" y="341.5" width="4.2" height="4.2" fill="#1a1aff"/>
<rect x="374.12" y="326.4" width="4.2" height="4.2" fill="#1a1aff"/>
<rect x="399.07" y="318.8" width="4.2" height="4.2" fill="#1a1aff"/>
<rect x="424.02" y="315.5" width="4.2" height="4.2" fill="#1a1aff"/>
<rect x="448.97" y="311.9" width="4.2" height="4.2" fill="#1a1aff"/>
<rect x="473.92" y="310.3" width="4.2" height="4.2" fill="#1a1aff"/>
<rect x="498.88" y="309.4" width="4.2" height="4.2" fill="#1a1aff"/>
<rect x="523.82" y="307.9" width="4.2" height="4.2" fill="#1a1aff"/>
<circle cx="351.28" cy="318.2" r="2.21" fill="#ff8020"/>
<circle cx="376.23" cy="317.3" r="2.21" fill="#ff8020"/>
<circle cx="401.18" cy="313.6" r="2.21" fill="#ff8020"/>
<circle cx="426.12" cy="307.6" r="2.21" fill="#ff8020"/>
<circle cx="451.07" cy="304.5" r="2.21" fill="#ff8020"/>
<circle cx="476.02" cy="303.6" r="2.21" fill="#ff8020"/>
<circle cx="500.98" cy="302.7" r="2.21" fill="#ff8020"/>
<circle cx="525.92" cy="300.5" r="2.21" fill="#ff8020"/>
<polygon points="353.8,327.3 349.39,324.99 349.39,329.61" fill="#2e9e6a"/>
<polygon points="378.75,321.8 374.34,319.49 374.34,324.11" fill="#2e9e6a"/>
<polygon points="403.69,312.7 399.29,310.39 399.29,315.01" fill="#2e9e6a"/>
<polygon points="428.64,308.2 424.24,305.89 424.24,310.51" fill="#2e9e6a"/>
<polygon points="453.59,303.1 449.19,300.79 449.19,305.41" fill="#2e9e6a"/>
<polygon points="478.54,298.2 474.13,295.89 474.13,300.51" fill="#2e9e6a"/>
<polygon points="503.5,295.5 499.09,293.19 499.09,297.81" fill="#2e9e6a"/>
<polygon points="528.44,293.3 524.03,290.99 524.03,295.61" fill="#2e9e6a"/>
<polygon points="351.28,331.98 353.59,336.39 348.97,336.39" fill="#a0166e"/>
<polygon points="376.23,322.98 378.54,327.39 373.92,327.39" fill="#a0166e"/>
<polygon points="401.18,313.88 403.49,318.29 398.87,318.29" fill="#a0166e"/>
<polygon points="426.12,307.08 428.44,311.49 423.81,311.49" fill="#a0166e"/>
<polygon points="451.07,304.38 453.38,308.79 448.76,308.79" fill="#a0166e"/>
<polygon points="476.02,297.48 478.33,301.89 473.71,301.89" fill="#a0166e"/>
<polygon points="500.98,294.38 503.29,298.79 498.67,298.79" fill="#a0166e"/>
<polygon points="525.92,292.58 528.23,296.99 523.62,296.99" fill="#a0166e"/>
<polygon points="351.28,326.48 353.9,329.1 351.28,331.73 348.65,329.1" fill="#22ee22"/>
<polygon points="376.23,319.18 378.85,321.8 376.23,324.43 373.6,321.8" fill="#22ee22"/>
<polygon points="401.18,303.38 403.8,306 401.18,308.62 398.55,306" fill="#22ee22"/>
<polygon points="426.12,292.88 428.75,295.5 426.12,298.12 423.5,295.5" fill="#22ee22"/>
<polygon points="451.07,285.57 453.7,288.2 451.07,290.82 448.45,288.2" fill="#22ee22"/>
<polygon points="476.02,281.57 478.65,284.2 476.02,286.82 473.4,284.2" fill="#22ee22"/>
<polygon points="500.98,280.07 503.6,282.7 500.98,285.32 498.35,282.7" fill="#22ee22"/>
<polygon points="525.92,279.18 528.55,281.8 525.92,284.43 523.3,281.8" fill="#22ee22"/>
<circle cx="351.28" cy="320.9" r="2.21" fill="#ff1a1a"/>
<circle cx="376.23" cy="312.7" r="2.21" fill="#ff1a1a"/>
<circle cx="401.18" cy="307.3" r="2.21" fill="#ff1a1a"/>
<circle cx="426.12" cy="299.5" r="2.21" fill="#ff1a1a"/>
<circle cx="451.07" cy="296.4" r="2.21" fill="#ff1a1a"/>
<circle cx="476.02" cy="292.7" r="2.21" fill="#ff1a1a"/>
<circle cx="500.98" cy="290.9" r="2.21" fill="#ff1a1a"/>
<circle cx="525.92" cy="289.6" r="2.21" fill="#ff1a1a"/>
<rect x="338.7" y="238.7" width="199.6" height="160.4" fill="none" stroke="#1a1a1a" stroke-width="1.5"/>
<line x1="335.7" y1="390.3" x2="338.7" y2="390.3" stroke="#1a1a1a" stroke-width="1.1"/>
<text x="333.3" y="393.6" font-size="10.6" text-anchor="end" font-family="Liberation Serif" font-weight="bold" stroke="#111" stroke-width="0.28" fill="#111">0.05</text>
<line x1="335.7" y1="352.4" x2="338.7" y2="352.4" stroke="#1a1a1a" stroke-width="1.1"/>
<text x="333.3" y="355.7" font-size="10.6" text-anchor="end" font-family="Liberation Serif" font-weight="bold" stroke="#111" stroke-width="0.28" fill="#111">0.10</text>
<line x1="335.7" y1="314.5" x2="338.7" y2="314.5" stroke="#1a1a1a" stroke-width="1.1"/>
<text x="333.3" y="317.8" font-size="10.6" text-anchor="end" font-family="Liberation Serif" font-weight="bold" stroke="#111" stroke-width="0.28" fill="#111">0.15</text>
<line x1="335.7" y1="276.6" x2="338.7" y2="276.6" stroke="#1a1a1a" stroke-width="1.1"/>
<text x="333.3" y="279.9" font-size="10.6" text-anchor="end" font-family="Liberation Serif" font-weight="bold" stroke="#111" stroke-width="0.28" fill="#111">0.20</text>
<line x1="335.7" y1="238.7" x2="338.7" y2="238.7" stroke="#1a1a1a" stroke-width="1.1"/>
<text x="333.3" y="242" font-size="10.6" text-anchor="end" font-family="Liberation Serif" font-weight="bold" stroke="#111" stroke-width="0.28" fill="#111">0.25</text>
<line x1="336.7" y1="371.35" x2="338.7" y2="371.35" stroke="#1a1a1a" stroke-width="1.1"/>
<line x1="336.7" y1="333.45" x2="338.7" y2="333.45" stroke="#1a1a1a" stroke-width="1.1"/>
<line x1="336.7" y1="295.55" x2="338.7" y2="295.55" stroke="#1a1a1a" stroke-width="1.1"/>
<line x1="336.7" y1="257.65" x2="338.7" y2="257.65" stroke="#1a1a1a" stroke-width="1.1"/>
<line x1="338.8" y1="399.1" x2="338.8" y2="402.1" stroke="#1a1a1a" stroke-width="1.1"/>
<text x="338.8" y="412.5" font-size="10.3" text-anchor="middle" font-family="Liberation Serif" font-weight="bold" stroke="#111" stroke-width="0.28" fill="#111">0</text>
<line x1="363.75" y1="399.1" x2="363.75" y2="402.1" stroke="#1a1a1a" stroke-width="1.1"/>
<text x="363.75" y="412.5" font-size="10.3" text-anchor="middle" font-family="Liberation Serif" font-weight="bold" stroke="#111" stroke-width="0.28" fill="#111">2</text>
<line x1="388.7" y1="399.1" x2="388.7" y2="402.1" stroke="#1a1a1a" stroke-width="1.1"/>
<text x="388.7" y="412.5" font-size="10.3" text-anchor="middle" font-family="Liberation Serif" font-weight="bold" stroke="#111" stroke-width="0.28" fill="#111">4</text>
<line x1="413.65" y1="399.1" x2="413.65" y2="402.1" stroke="#1a1a1a" stroke-width="1.1"/>
<text x="413.65" y="412.5" font-size="10.3" text-anchor="middle" font-family="Liberation Serif" font-weight="bold" stroke="#111" stroke-width="0.28" fill="#111">6</text>
<line x1="438.6" y1="399.1" x2="438.6" y2="402.1" stroke="#1a1a1a" stroke-width="1.1"/>
<text x="438.6" y="412.5" font-size="10.3" text-anchor="middle" font-family="Liberation Serif" font-weight="bold" stroke="#111" stroke-width="0.28" fill="#111">8</text>
<line x1="463.55" y1="399.1" x2="463.55" y2="402.1" stroke="#1a1a1a" stroke-width="1.1"/>
<text x="463.55" y="412.5" font-size="10.3" text-anchor="middle" font-family="Liberation Serif" font-weight="bold" stroke="#111" stroke-width="0.28" fill="#111">10</text>
<line x1="488.5" y1="399.1" x2="488.5" y2="402.1" stroke="#1a1a1a" stroke-width="1.1"/>
<text x="488.5" y="412.5" font-size="10.3" text-anchor="middle" font-family="Liberation Serif" font-weight="bold" stroke="#111" stroke-width="0.28" fill="#111">12</text>
<line x1="513.45" y1="399.1" x2="513.45" y2="402.1" stroke="#1a1a1a" stroke-width="1.1"/>
<text x="513.45" y="412.5" font-size="10.3" text-anchor="middle" font-family="Liberation Serif" font-weight="bold" stroke="#111" stroke-width="0.28" fill="#111">14</text>
<line x1="538.4" y1="399.1" x2="538.4" y2="402.1" stroke="#1a1a1a" stroke-width="1.1"/>
<text x="538.4" y="412.5" font-size="10.3" text-anchor="middle" font-family="Liberation Serif" font-weight="bold" stroke="#111" stroke-width="0.28" fill="#111">16</text>
<line x1="351.28" y1="399.1" x2="351.28" y2="401.1" stroke="#1a1a1a" stroke-width="1.1"/>
<line x1="376.23" y1="399.1" x2="376.23" y2="401.1" stroke="#1a1a1a" stroke-width="1.1"/>
<line x1="401.18" y1="399.1" x2="401.18" y2="401.1" stroke="#1a1a1a" stroke-width="1.1"/>
<line x1="426.12" y1="399.1" x2="426.12" y2="401.1" stroke="#1a1a1a" stroke-width="1.1"/>
<line x1="451.07" y1="399.1" x2="451.07" y2="401.1" stroke="#1a1a1a" stroke-width="1.1"/>
<line x1="476.02" y1="399.1" x2="476.02" y2="401.1" stroke="#1a1a1a" stroke-width="1.1"/>
<line x1="500.98" y1="399.1" x2="500.98" y2="401.1" stroke="#1a1a1a" stroke-width="1.1"/>
<line x1="525.92" y1="399.1" x2="525.92" y2="401.1" stroke="#1a1a1a" stroke-width="1.1"/>
<text x="413.1" y="433.2" font-size="13.8" text-anchor="start" font-family="Liberation Serif" font-weight="bold" stroke="#111" stroke-width="0.28" fill="#111">Time (min)</text>
<text x="303.2" y="319.2" font-size="13.3" text-anchor="middle" font-family="Liberation Serif" font-weight="bold" stroke="#111" stroke-width="0.28" fill="#111" transform="rotate(-90 303.2 319.2)">Absorbance (652 nm)</text>
<text x="268.6" y="255" font-size="22.5" text-anchor="start" font-family="Liberation Sans" font-weight="bold" fill="#000">D</text>
<circle cx="346" cy="247.9" r="2.21" fill="#555555"/>
<text x="354.7" y="251.4" font-size="10" text-anchor="start" font-family="Liberation Serif" font-weight="bold" stroke="#111" stroke-width="0.28" fill="#111">a</text>
<rect x="343.9" y="258.4" width="4.2" height="4.2" fill="#1a1aff"/>
<text x="354.7" y="264" font-size="10" text-anchor="start" font-family="Liberation Serif" font-weight="bold" stroke="#111" stroke-width="0.28" fill="#111">b</text>
<circle cx="346" cy="273.6" r="2.21" fill="#ff8020"/>
<text x="354.7" y="277.1" font-size="10" text-anchor="start" font-family="Liberation Serif" font-weight="bold" stroke="#111" stroke-width="0.28" fill="#111">c</text>
<polygon points="348.52,286.7 344.11,284.39 344.11,289.01" fill="#2e9e6a"/>
<text x="354.7" y="290.2" font-size="10" text-anchor="start" font-family="Liberation Serif" font-weight="bold" stroke="#111" stroke-width="0.28" fill="#111">d</text>
<polygon points="386,245.38 388.31,249.79 383.69,249.79" fill="#a0166e"/>
<text x="396.2" y="251.4" font-size="10" text-anchor="start" font-family="Liberation Serif" font-weight="bold" stroke="#111" stroke-width="0.28" fill="#111">e</text>
<polygon points="386,257.88 388.62,260.5 386,263.12 383.38,260.5" fill="#22ee22"/>
<text x="396.2" y="264" font-size="10" text-anchor="start" font-family="Liberation Serif" font-weight="bold" stroke="#111" stroke-width="0.28" fill="#111">f</text>
<circle cx="386" cy="273.6" r="2.21" fill="#ff1a1a"/>
<text x="396.2" y="277.1" font-size="10" text-anchor="start" font-family="Liberation Serif" font-weight="bold" stroke="#111" stroke-width="0.28" fill="#111">g</text>
</svg></body></html>
